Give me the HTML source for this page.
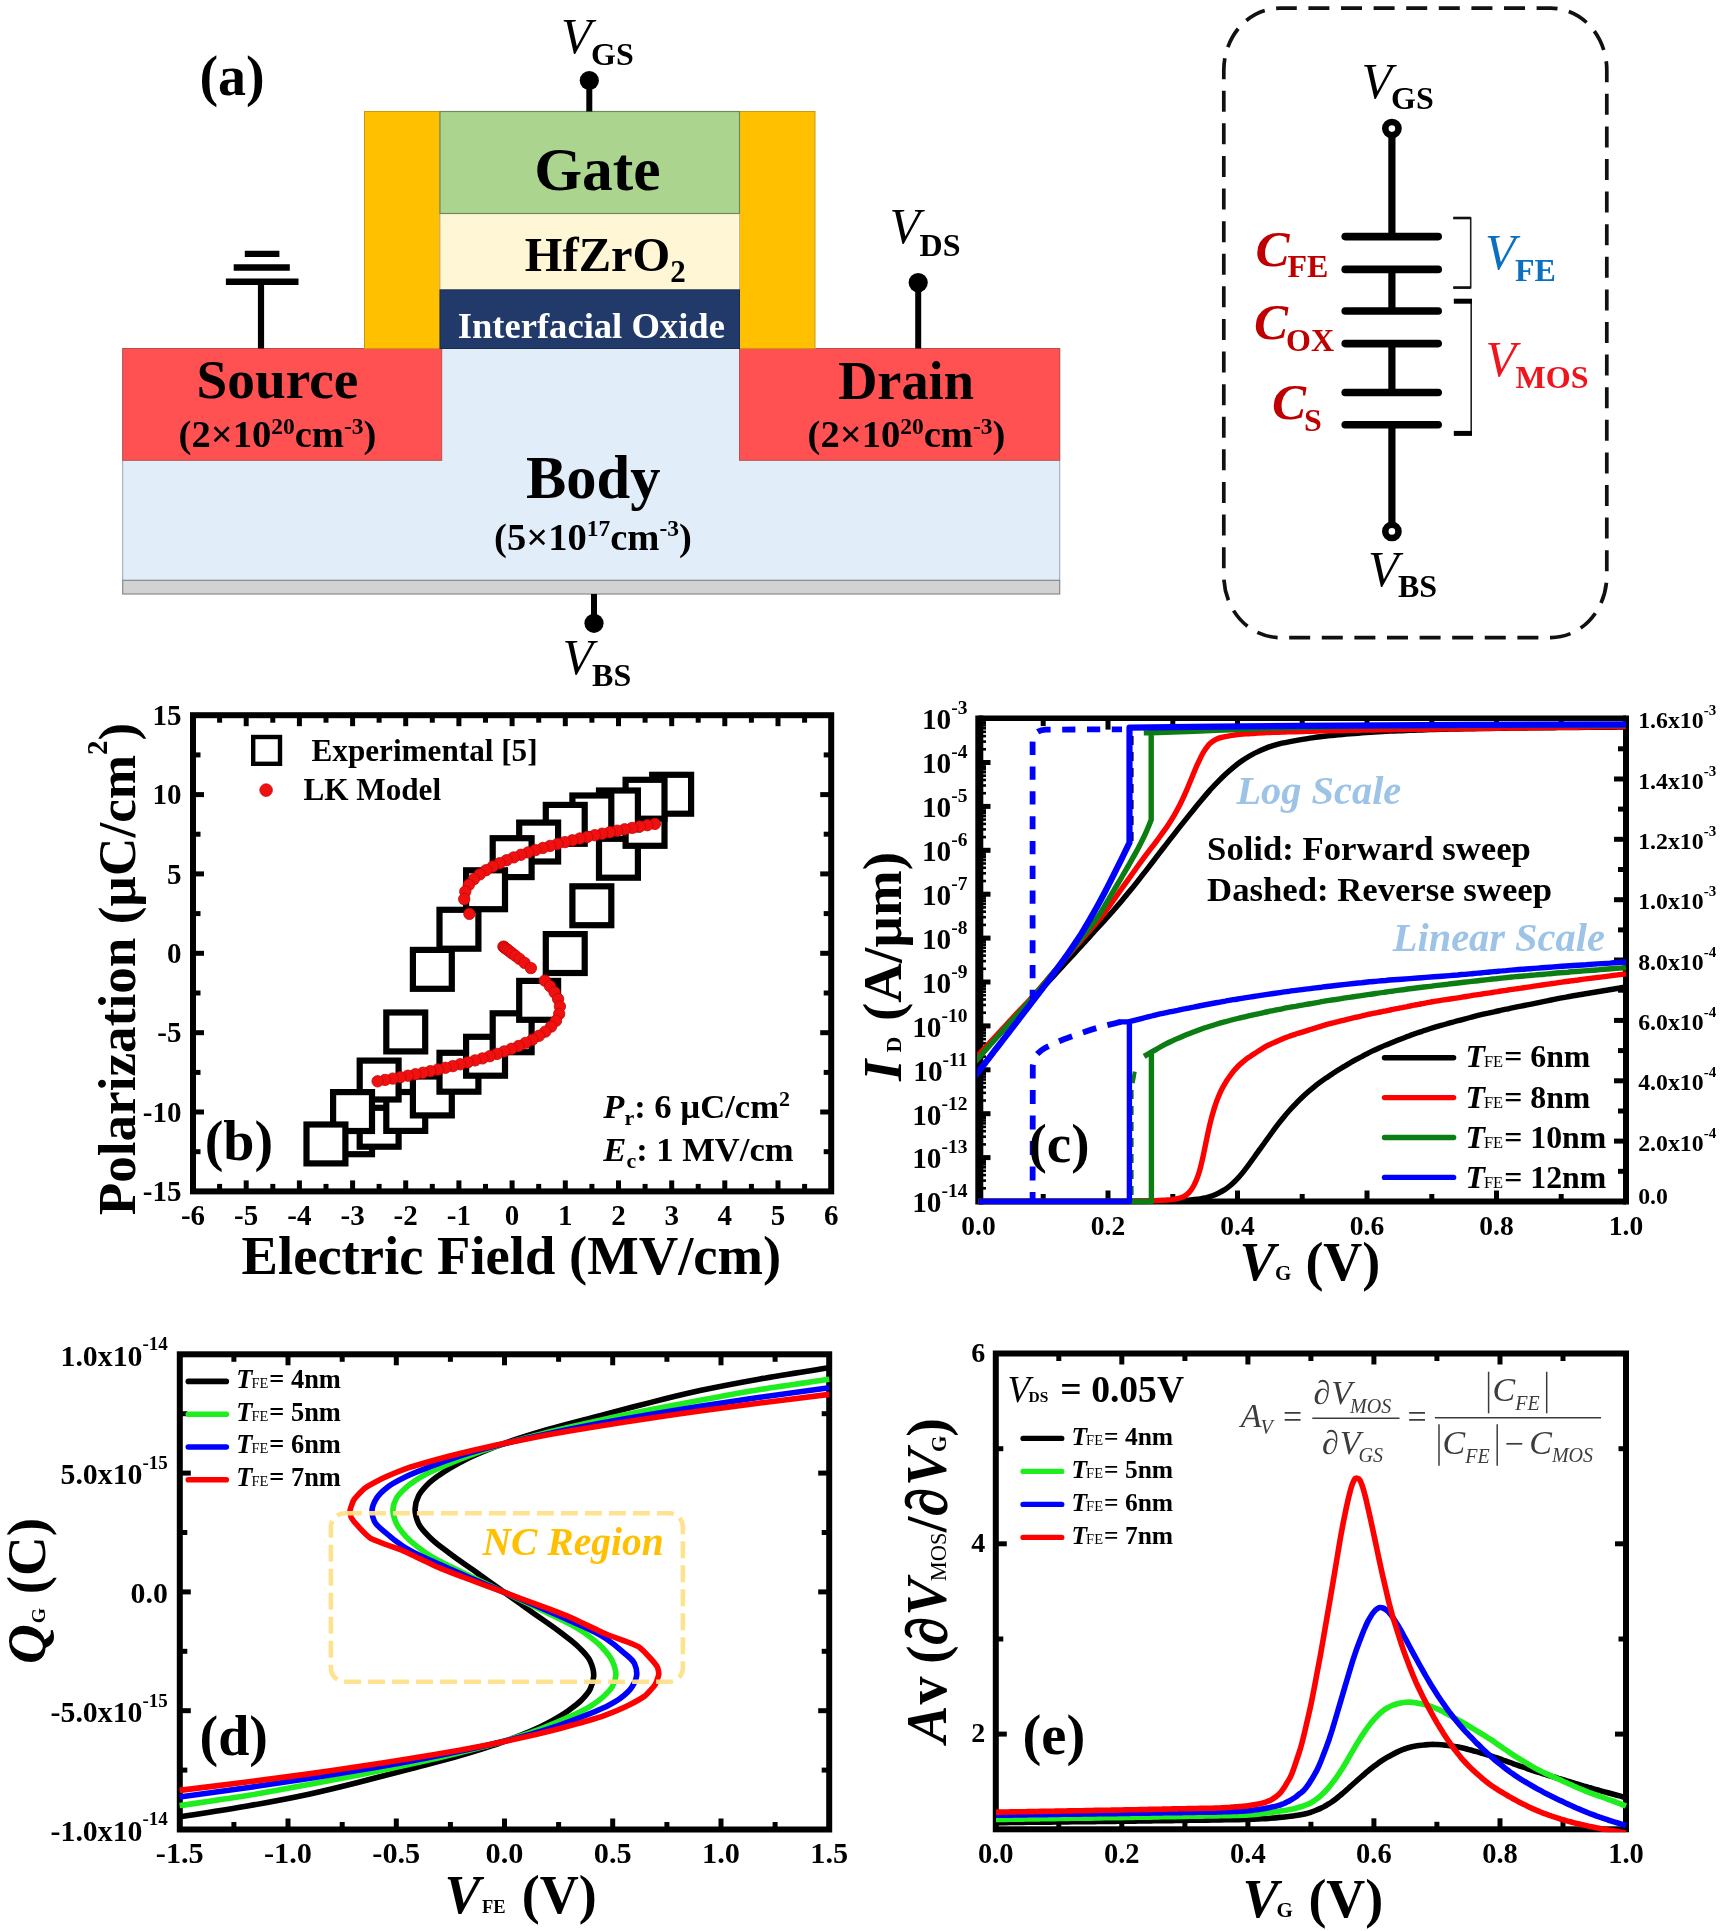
<!DOCTYPE html>
<html lang="en"><head><meta charset="utf-8"><title>NCFET figure</title>
<style>
html,body{margin:0;padding:0;background:#fff;}
body{width:1720px;height:1931px;overflow:hidden;}
svg{display:block;font-family:"Liberation Serif","DejaVu Serif",serif;filter:blur(0.55px);}
</style></head><body>
<svg width="1720" height="1931" viewBox="0 0 1720 1931">
<g id="panel-a">
<rect x="122.7" y="348.5" width="937" height="232" fill="#E1EEF9" stroke="#9aa7b5" stroke-width="1" />
<rect x="122.7" y="580.3" width="937" height="13.7" fill="#D2D2D2" stroke="#8a8a8a" stroke-width="1.2" />
<rect x="122.7" y="348.5" width="319" height="111.8" fill="#FF5151" stroke="#b85050" stroke-width="1" />
<rect x="739.5" y="348.5" width="320.2" height="111.8" fill="#FF5151" stroke="#b85050" stroke-width="1" />
<rect x="364.5" y="111.5" width="75.5" height="237" fill="#FFC000" stroke="#c89a10" stroke-width="1" />
<rect x="739.5" y="111.5" width="75.5" height="237" fill="#FFC000" stroke="#c89a10" stroke-width="1" />
<rect x="440" y="213.5" width="299.5" height="76.4" fill="#FFF6D6" stroke="#bfb699" stroke-width="1" />
<rect x="440" y="111.5" width="299.5" height="102" fill="#ABD58E" stroke="#6f8a5e" stroke-width="1.2" />
<rect x="440" y="289.9" width="299.5" height="58.6" fill="#223A6A" stroke="#1a2d50" stroke-width="1" />
<line x1="589.3" y1="80" x2="589.3" y2="111.5" stroke="#000" stroke-width="6" />
<circle cx="589.3" cy="80.5" r="9.6" fill="#000"/>
<line x1="918.2" y1="283" x2="918.2" y2="348.5" stroke="#000" stroke-width="6" />
<circle cx="918.2" cy="282.6" r="9.6" fill="#000"/>
<line x1="594" y1="594" x2="594" y2="623" stroke="#000" stroke-width="6" />
<circle cx="594" cy="623.3" r="9.6" fill="#000"/>
<line x1="261" y1="281" x2="261" y2="348.5" stroke="#000" stroke-width="6.2" />
<line x1="225.9" y1="281.7" x2="298.5" y2="281.7" stroke="#000" stroke-width="6.6" />
<line x1="233.7" y1="267.5" x2="289.8" y2="267.5" stroke="#000" stroke-width="6.6" />
<line x1="244.8" y1="253.8" x2="279.4" y2="253.8" stroke="#000" stroke-width="6.2" />
<text x="199.4" y="94.5" text-anchor="start" fill="#000"><tspan font-weight="bold" font-size="56">(a)</tspan></text>
<text x="561" y="53" text-anchor="start" fill="#000"><tspan font-weight="normal" font-style="italic" font-size="50">V</tspan><tspan font-weight="bold" font-size="32" dy="11.5" dx="-0.5">GS</tspan></text>
<text x="889.5" y="243.2" text-anchor="start" fill="#000"><tspan font-weight="normal" font-style="italic" font-size="50">V</tspan><tspan font-weight="bold" font-size="32" dy="12.8" dx="-0.5">DS</tspan></text>
<text x="562.5" y="673.5" text-anchor="start" fill="#000"><tspan font-weight="normal" font-style="italic" font-size="50">V</tspan><tspan font-weight="bold" font-size="32" dy="12" dx="-1">BS</tspan></text>
<text x="597.4" y="190.2" text-anchor="middle" fill="#000"><tspan font-weight="bold" font-size="61.5">Gate</tspan></text>
<text x="524.8" y="271" text-anchor="start" fill="#000"><tspan font-weight="bold" font-size="48.5">HfZrO</tspan><tspan font-weight="bold" font-size="31" dy="10.5">2</tspan></text>
<text x="591.3" y="337.6" text-anchor="middle" fill="#fff"><tspan font-weight="bold" font-size="36.6">Interfacial Oxide</tspan></text>
<text x="277.5" y="398" text-anchor="middle" fill="#000"><tspan font-weight="bold" font-size="55.3">Source</tspan></text>
<text x="906" y="398.6" text-anchor="middle" fill="#000"><tspan font-weight="bold" font-size="54.3">Drain</tspan></text>
<text x="593.2" y="498" text-anchor="middle" fill="#000"><tspan font-weight="bold" font-size="60.5">Body</tspan></text>
<text x="277.5" y="447" text-anchor="middle" fill="#000"><tspan font-weight="bold" font-size="38.6">(2×10</tspan><tspan font-weight="bold" font-size="23.5" dy="-13.5">20</tspan><tspan font-weight="bold" font-size="38.6" dy="13.5">cm</tspan><tspan font-weight="bold" font-size="23.5" dy="-13.5">-3</tspan><tspan font-weight="bold" font-size="38.6" dy="13.5">)</tspan></text>
<text x="906.5" y="447" text-anchor="middle" fill="#000"><tspan font-weight="bold" font-size="38.6">(2×10</tspan><tspan font-weight="bold" font-size="23.5" dy="-13.5">20</tspan><tspan font-weight="bold" font-size="38.6" dy="13.5">cm</tspan><tspan font-weight="bold" font-size="23.5" dy="-13.5">-3</tspan><tspan font-weight="bold" font-size="38.6" dy="13.5">)</tspan></text>
<text x="593" y="549.5" text-anchor="middle" fill="#000"><tspan font-weight="bold" font-size="38.6">(5×10</tspan><tspan font-weight="bold" font-size="23.5" dy="-13.5">17</tspan><tspan font-weight="bold" font-size="38.6" dy="13.5">cm</tspan><tspan font-weight="bold" font-size="23.5" dy="-13.5">-3</tspan><tspan font-weight="bold" font-size="38.6" dy="13.5">)</tspan></text>
</g>
<g id="panel-a2">
<rect x="1223.8" y="8.2" width="383" height="629.4" rx="56" ry="62" fill="none" stroke="#111" stroke-width="3.7" stroke-dasharray="21 11.6" stroke-dashoffset="4"/>
<line x1="1391.9" y1="136" x2="1391.9" y2="236.6" stroke="#000" stroke-width="7.2" />
<line x1="1391.9" y1="269.4" x2="1391.9" y2="311" stroke="#000" stroke-width="7.2" />
<line x1="1391.9" y1="343.6" x2="1391.9" y2="392.5" stroke="#000" stroke-width="7.2" />
<line x1="1391.9" y1="424.7" x2="1391.9" y2="524" stroke="#000" stroke-width="7.2" />
<line x1="1345.2" y1="236.6" x2="1438.2" y2="236.6" stroke="#000" stroke-width="7.6" stroke-linecap="round"/>
<line x1="1345.2" y1="269.4" x2="1438.2" y2="269.4" stroke="#000" stroke-width="7.6" stroke-linecap="round"/>
<line x1="1345.2" y1="311" x2="1438.2" y2="311" stroke="#000" stroke-width="7.6" stroke-linecap="round"/>
<line x1="1345.2" y1="343.6" x2="1438.2" y2="343.6" stroke="#000" stroke-width="7.6" stroke-linecap="round"/>
<line x1="1345.2" y1="392.5" x2="1438.2" y2="392.5" stroke="#000" stroke-width="7.6" stroke-linecap="round"/>
<line x1="1345.2" y1="424.7" x2="1438.2" y2="424.7" stroke="#000" stroke-width="7.6" stroke-linecap="round"/>
<circle cx="1391.9" cy="128.6" r="6.6" fill="#fff" stroke="#000" stroke-width="6.6"/>
<circle cx="1391.9" cy="531.4" r="6.6" fill="#fff" stroke="#000" stroke-width="6.6"/>
<path d="M1453.3 218 H1470.7 V287.6 H1453.3" fill="none" stroke="#222" stroke-width="1.6" />
<line x1="1453.3" y1="218" x2="1470.7" y2="218" stroke="#111" stroke-width="2.6" />
<line x1="1453.3" y1="287.6" x2="1470.7" y2="287.6" stroke="#111" stroke-width="2.6" />
<line x1="1471.2" y1="301" x2="1471.2" y2="433.4" stroke="#222" stroke-width="1.6" />
<line x1="1453.8" y1="301.2" x2="1472" y2="301.2" stroke="#000" stroke-width="5" />
<line x1="1453.8" y1="433.4" x2="1472" y2="433.4" stroke="#000" stroke-width="5" />
<text x="1361.5" y="97.7" text-anchor="start" fill="#000"><tspan font-weight="normal" font-style="italic" font-size="50">V</tspan><tspan font-weight="bold" font-size="32" dy="11.6" dx="-1">GS</tspan></text>
<text x="1367.9" y="585.6" text-anchor="start" fill="#000"><tspan font-weight="normal" font-style="italic" font-size="50">V</tspan><tspan font-weight="bold" font-size="32" dy="11.6" dx="-0.5">BS</tspan></text>
<text x="1255.5" y="265.5" text-anchor="start" fill="#C00000"><tspan font-weight="bold" font-style="italic" font-size="51">C</tspan><tspan font-weight="bold" font-size="32" dy="11.6" dx="-2">FE</tspan></text>
<text x="1254" y="338.6" text-anchor="start" fill="#C00000"><tspan font-weight="bold" font-style="italic" font-size="51">C</tspan><tspan font-weight="bold" font-size="32" dy="12.6" dx="-2">OX</tspan></text>
<text x="1272" y="418.7" text-anchor="start" fill="#C00000"><tspan font-weight="bold" font-style="italic" font-size="51">C</tspan><tspan font-weight="bold" font-size="32" dy="12.2" dx="-2">S</tspan></text>
<text x="1485" y="268.6" text-anchor="start" fill="#0B6FC2"><tspan font-weight="normal" font-style="italic" font-size="50">V</tspan><tspan font-weight="bold" font-size="32" dy="12.2" dx="-0.5">FE</tspan></text>
<text x="1485.5" y="375.7" text-anchor="start" fill="#F0141E"><tspan font-weight="normal" font-style="italic" font-size="50">V</tspan><tspan font-weight="bold" font-size="32" dy="12.2" dx="-0.5">MOS</tspan></text>
</g>
<g id="panel-b">
<rect x="333.1" y="1115.3" width="38.9" height="38.9" fill="#fff" stroke="#000" stroke-width="6.2" />
<rect x="359.7" y="1107.8" width="38.9" height="38.9" fill="#fff" stroke="#000" stroke-width="6.2" />
<rect x="386.3" y="1092" width="38.9" height="38.9" fill="#fff" stroke="#000" stroke-width="6.2" />
<rect x="412.9" y="1076.5" width="38.9" height="38.9" fill="#fff" stroke="#000" stroke-width="6.2" />
<rect x="439.5" y="1052.8" width="38.9" height="38.9" fill="#fff" stroke="#000" stroke-width="6.2" />
<rect x="466.1" y="1036.8" width="38.9" height="38.9" fill="#fff" stroke="#000" stroke-width="6.2" />
<rect x="492.7" y="1013.3" width="38.9" height="38.9" fill="#fff" stroke="#000" stroke-width="6.2" />
<rect x="519.2" y="980.9" width="38.9" height="38.9" fill="#fff" stroke="#000" stroke-width="6.2" />
<rect x="545.8" y="934.1" width="38.9" height="38.9" fill="#fff" stroke="#000" stroke-width="6.2" />
<rect x="572.4" y="886.3" width="38.9" height="38.9" fill="#fff" stroke="#000" stroke-width="6.2" />
<rect x="599" y="838.8" width="38.9" height="38.9" fill="#fff" stroke="#000" stroke-width="6.2" />
<rect x="625.6" y="806.9" width="38.9" height="38.9" fill="#fff" stroke="#000" stroke-width="6.2" />
<rect x="652.2" y="774.8" width="38.9" height="38.9" fill="#fff" stroke="#000" stroke-width="6.2" />
<rect x="625.6" y="779.8" width="38.9" height="38.9" fill="#fff" stroke="#000" stroke-width="6.2" />
<rect x="599" y="790.5" width="38.9" height="38.9" fill="#fff" stroke="#000" stroke-width="6.2" />
<rect x="572.4" y="795.5" width="38.9" height="38.9" fill="#fff" stroke="#000" stroke-width="6.2" />
<rect x="545.8" y="804.9" width="38.9" height="38.9" fill="#fff" stroke="#000" stroke-width="6.2" />
<rect x="519.2" y="822.6" width="38.9" height="38.9" fill="#fff" stroke="#000" stroke-width="6.2" />
<rect x="492.7" y="838.2" width="38.9" height="38.9" fill="#fff" stroke="#000" stroke-width="6.2" />
<rect x="466.1" y="870.3" width="38.9" height="38.9" fill="#fff" stroke="#000" stroke-width="6.2" />
<rect x="439.5" y="909.8" width="38.9" height="38.9" fill="#fff" stroke="#000" stroke-width="6.2" />
<rect x="412.9" y="949.9" width="38.9" height="38.9" fill="#fff" stroke="#000" stroke-width="6.2" />
<rect x="386.3" y="1012.5" width="38.9" height="38.9" fill="#fff" stroke="#000" stroke-width="6.2" />
<rect x="359.7" y="1060.6" width="38.9" height="38.9" fill="#fff" stroke="#000" stroke-width="6.2" />
<rect x="333.1" y="1092.1" width="38.9" height="38.9" fill="#fff" stroke="#000" stroke-width="6.2" />
<rect x="306.5" y="1124.5" width="38.9" height="38.9" fill="#fff" stroke="#000" stroke-width="6.2" />
<g fill="#F01010" stroke="#C40808" stroke-width="0.8">
<circle cx="654.9" cy="823.9" r="5.7"/>
<circle cx="647.3" cy="825.2" r="5.7"/>
<circle cx="639.7" cy="826.5" r="5.7"/>
<circle cx="632.2" cy="827.9" r="5.7"/>
<circle cx="624.7" cy="829.3" r="5.7"/>
<circle cx="617.2" cy="830.7" r="5.7"/>
<circle cx="609.8" cy="832.2" r="5.7"/>
<circle cx="602.2" cy="833.7" r="5.7"/>
<circle cx="594.8" cy="835.2" r="5.7"/>
<circle cx="587.3" cy="836.9" r="5.7"/>
<circle cx="579.8" cy="838.5" r="5.7"/>
<circle cx="572.4" cy="840.3" r="5.7"/>
<circle cx="564.9" cy="842.1" r="5.7"/>
<circle cx="557.5" cy="843.9" r="5.7"/>
<circle cx="550.1" cy="845.9" r="5.7"/>
<circle cx="542.8" cy="848" r="5.7"/>
<circle cx="535.4" cy="850.1" r="5.7"/>
<circle cx="528.1" cy="852.4" r="5.7"/>
<circle cx="520.9" cy="854.8" r="5.7"/>
<circle cx="513.7" cy="857.4" r="5.7"/>
<circle cx="506.6" cy="860.2" r="5.7"/>
<circle cx="499.6" cy="863.2" r="5.7"/>
<circle cx="492.8" cy="866.5" r="5.7"/>
<circle cx="486.1" cy="870.2" r="5.7"/>
<circle cx="479.7" cy="874.4" r="5.7"/>
<circle cx="473.9" cy="879.2" r="5.7"/>
<circle cx="468.8" cy="884.9" r="5.7"/>
<circle cx="465.3" cy="891.6" r="5.7"/>
<circle cx="464.2" cy="899.1" r="5.7"/>
<circle cx="469.4" cy="913.9" r="5.7"/>
<circle cx="503.4" cy="946.6" r="5.7"/>
<circle cx="504.1" cy="947.2" r="5.7"/>
<circle cx="505.1" cy="947.9" r="5.7"/>
<circle cx="506.2" cy="948.8" r="5.7"/>
<circle cx="507.8" cy="950" r="5.7"/>
<circle cx="509.7" cy="951.5" r="5.7"/>
<circle cx="512.2" cy="953.4" r="5.7"/>
<circle cx="515.4" cy="955.8" r="5.7"/>
<circle cx="519.5" cy="958.9" r="5.7"/>
<circle cx="524.6" cy="962.9" r="5.7"/>
<circle cx="530.9" cy="968.1" r="5.7"/>
<circle cx="544.8" cy="980.6" r="5.7"/>
<circle cx="550" cy="986.2" r="5.7"/>
<circle cx="554.5" cy="992.3" r="5.7"/>
<circle cx="558.1" cy="999" r="5.7"/>
<circle cx="559.9" cy="1006.4" r="5.7"/>
<circle cx="559.2" cy="1013.9" r="5.7"/>
<circle cx="556" cy="1020.8" r="5.7"/>
<circle cx="551.1" cy="1026.6" r="5.7"/>
<circle cx="545.3" cy="1031.6" r="5.7"/>
<circle cx="539" cy="1035.8" r="5.7"/>
<circle cx="532.4" cy="1039.6" r="5.7"/>
<circle cx="525.5" cy="1042.9" r="5.7"/>
<circle cx="518.5" cy="1046" r="5.7"/>
<circle cx="511.4" cy="1048.8" r="5.7"/>
<circle cx="504.2" cy="1051.4" r="5.7"/>
<circle cx="497" cy="1053.9" r="5.7"/>
<circle cx="489.7" cy="1056.2" r="5.7"/>
<circle cx="482.4" cy="1058.4" r="5.7"/>
<circle cx="475" cy="1060.4" r="5.7"/>
<circle cx="467.6" cy="1062.4" r="5.7"/>
<circle cx="460.2" cy="1064.3" r="5.7"/>
<circle cx="452.8" cy="1066.1" r="5.7"/>
<circle cx="445.4" cy="1067.8" r="5.7"/>
<circle cx="437.9" cy="1069.5" r="5.7"/>
<circle cx="430.4" cy="1071.1" r="5.7"/>
<circle cx="422.9" cy="1072.7" r="5.7"/>
<circle cx="415.4" cy="1074.2" r="5.7"/>
<circle cx="407.9" cy="1075.7" r="5.7"/>
<circle cx="400.3" cy="1077.2" r="5.7"/>
<circle cx="392.7" cy="1078.6" r="5.7"/>
<circle cx="385.1" cy="1079.9" r="5.7"/>
<circle cx="377.6" cy="1081.3" r="5.7"/>
</g>
<rect x="193" y="715.2" width="638.2" height="476.2" fill="none" stroke="#000" stroke-width="6" />
<line x1="219.6" y1="1191.4" x2="219.6" y2="1183.9" stroke="#000" stroke-width="5" />
<line x1="219.6" y1="715.2" x2="219.6" y2="722.7" stroke="#000" stroke-width="5" />
<text x="193" y="1224.6" text-anchor="middle" fill="#000"><tspan font-weight="bold" font-size="29">-6</tspan></text>
<line x1="246.2" y1="1191.4" x2="246.2" y2="1180.4" stroke="#000" stroke-width="5" />
<line x1="246.2" y1="715.2" x2="246.2" y2="726.2" stroke="#000" stroke-width="5" />
<line x1="272.8" y1="1191.4" x2="272.8" y2="1183.9" stroke="#000" stroke-width="5" />
<line x1="272.8" y1="715.2" x2="272.8" y2="722.7" stroke="#000" stroke-width="5" />
<text x="246.2" y="1224.6" text-anchor="middle" fill="#000"><tspan font-weight="bold" font-size="29">-5</tspan></text>
<line x1="299.4" y1="1191.4" x2="299.4" y2="1180.4" stroke="#000" stroke-width="5" />
<line x1="299.4" y1="715.2" x2="299.4" y2="726.2" stroke="#000" stroke-width="5" />
<line x1="326" y1="1191.4" x2="326" y2="1183.9" stroke="#000" stroke-width="5" />
<line x1="326" y1="715.2" x2="326" y2="722.7" stroke="#000" stroke-width="5" />
<text x="299.4" y="1224.6" text-anchor="middle" fill="#000"><tspan font-weight="bold" font-size="29">-4</tspan></text>
<line x1="352.6" y1="1191.4" x2="352.6" y2="1180.4" stroke="#000" stroke-width="5" />
<line x1="352.6" y1="715.2" x2="352.6" y2="726.2" stroke="#000" stroke-width="5" />
<line x1="379.1" y1="1191.4" x2="379.1" y2="1183.9" stroke="#000" stroke-width="5" />
<line x1="379.1" y1="715.2" x2="379.1" y2="722.7" stroke="#000" stroke-width="5" />
<text x="352.6" y="1224.6" text-anchor="middle" fill="#000"><tspan font-weight="bold" font-size="29">-3</tspan></text>
<line x1="405.7" y1="1191.4" x2="405.7" y2="1180.4" stroke="#000" stroke-width="5" />
<line x1="405.7" y1="715.2" x2="405.7" y2="726.2" stroke="#000" stroke-width="5" />
<line x1="432.3" y1="1191.4" x2="432.3" y2="1183.9" stroke="#000" stroke-width="5" />
<line x1="432.3" y1="715.2" x2="432.3" y2="722.7" stroke="#000" stroke-width="5" />
<text x="405.7" y="1224.6" text-anchor="middle" fill="#000"><tspan font-weight="bold" font-size="29">-2</tspan></text>
<line x1="458.9" y1="1191.4" x2="458.9" y2="1180.4" stroke="#000" stroke-width="5" />
<line x1="458.9" y1="715.2" x2="458.9" y2="726.2" stroke="#000" stroke-width="5" />
<line x1="485.5" y1="1191.4" x2="485.5" y2="1183.9" stroke="#000" stroke-width="5" />
<line x1="485.5" y1="715.2" x2="485.5" y2="722.7" stroke="#000" stroke-width="5" />
<text x="458.9" y="1224.6" text-anchor="middle" fill="#000"><tspan font-weight="bold" font-size="29">-1</tspan></text>
<line x1="512.1" y1="1191.4" x2="512.1" y2="1180.4" stroke="#000" stroke-width="5" />
<line x1="512.1" y1="715.2" x2="512.1" y2="726.2" stroke="#000" stroke-width="5" />
<line x1="538.7" y1="1191.4" x2="538.7" y2="1183.9" stroke="#000" stroke-width="5" />
<line x1="538.7" y1="715.2" x2="538.7" y2="722.7" stroke="#000" stroke-width="5" />
<text x="512.1" y="1224.6" text-anchor="middle" fill="#000"><tspan font-weight="bold" font-size="29">0</tspan></text>
<line x1="565.3" y1="1191.4" x2="565.3" y2="1180.4" stroke="#000" stroke-width="5" />
<line x1="565.3" y1="715.2" x2="565.3" y2="726.2" stroke="#000" stroke-width="5" />
<line x1="591.9" y1="1191.4" x2="591.9" y2="1183.9" stroke="#000" stroke-width="5" />
<line x1="591.9" y1="715.2" x2="591.9" y2="722.7" stroke="#000" stroke-width="5" />
<text x="565.3" y="1224.6" text-anchor="middle" fill="#000"><tspan font-weight="bold" font-size="29">1</tspan></text>
<line x1="618.5" y1="1191.4" x2="618.5" y2="1180.4" stroke="#000" stroke-width="5" />
<line x1="618.5" y1="715.2" x2="618.5" y2="726.2" stroke="#000" stroke-width="5" />
<line x1="645.1" y1="1191.4" x2="645.1" y2="1183.9" stroke="#000" stroke-width="5" />
<line x1="645.1" y1="715.2" x2="645.1" y2="722.7" stroke="#000" stroke-width="5" />
<text x="618.5" y="1224.6" text-anchor="middle" fill="#000"><tspan font-weight="bold" font-size="29">2</tspan></text>
<line x1="671.7" y1="1191.4" x2="671.7" y2="1180.4" stroke="#000" stroke-width="5" />
<line x1="671.7" y1="715.2" x2="671.7" y2="726.2" stroke="#000" stroke-width="5" />
<line x1="698.2" y1="1191.4" x2="698.2" y2="1183.9" stroke="#000" stroke-width="5" />
<line x1="698.2" y1="715.2" x2="698.2" y2="722.7" stroke="#000" stroke-width="5" />
<text x="671.7" y="1224.6" text-anchor="middle" fill="#000"><tspan font-weight="bold" font-size="29">3</tspan></text>
<line x1="724.8" y1="1191.4" x2="724.8" y2="1180.4" stroke="#000" stroke-width="5" />
<line x1="724.8" y1="715.2" x2="724.8" y2="726.2" stroke="#000" stroke-width="5" />
<line x1="751.4" y1="1191.4" x2="751.4" y2="1183.9" stroke="#000" stroke-width="5" />
<line x1="751.4" y1="715.2" x2="751.4" y2="722.7" stroke="#000" stroke-width="5" />
<text x="724.8" y="1224.6" text-anchor="middle" fill="#000"><tspan font-weight="bold" font-size="29">4</tspan></text>
<line x1="778" y1="1191.4" x2="778" y2="1180.4" stroke="#000" stroke-width="5" />
<line x1="778" y1="715.2" x2="778" y2="726.2" stroke="#000" stroke-width="5" />
<line x1="804.6" y1="1191.4" x2="804.6" y2="1183.9" stroke="#000" stroke-width="5" />
<line x1="804.6" y1="715.2" x2="804.6" y2="722.7" stroke="#000" stroke-width="5" />
<text x="778" y="1224.6" text-anchor="middle" fill="#000"><tspan font-weight="bold" font-size="29">5</tspan></text>
<text x="831.2" y="1224.6" text-anchor="middle" fill="#000"><tspan font-weight="bold" font-size="29">6</tspan></text>
<line x1="193" y1="1151.7" x2="200.5" y2="1151.7" stroke="#000" stroke-width="5" />
<line x1="831.2" y1="1151.7" x2="823.7" y2="1151.7" stroke="#000" stroke-width="5" />
<text x="181.5" y="1201" text-anchor="end" fill="#000"><tspan font-weight="bold" font-size="29">-15</tspan></text>
<line x1="193" y1="1112" x2="204" y2="1112" stroke="#000" stroke-width="5" />
<line x1="831.2" y1="1112" x2="820.2" y2="1112" stroke="#000" stroke-width="5" />
<line x1="193" y1="1072.4" x2="200.5" y2="1072.4" stroke="#000" stroke-width="5" />
<line x1="831.2" y1="1072.4" x2="823.7" y2="1072.4" stroke="#000" stroke-width="5" />
<text x="181.5" y="1121.6" text-anchor="end" fill="#000"><tspan font-weight="bold" font-size="29">-10</tspan></text>
<line x1="193" y1="1032.7" x2="204" y2="1032.7" stroke="#000" stroke-width="5" />
<line x1="831.2" y1="1032.7" x2="820.2" y2="1032.7" stroke="#000" stroke-width="5" />
<line x1="193" y1="993" x2="200.5" y2="993" stroke="#000" stroke-width="5" />
<line x1="831.2" y1="993" x2="823.7" y2="993" stroke="#000" stroke-width="5" />
<text x="181.5" y="1042.3" text-anchor="end" fill="#000"><tspan font-weight="bold" font-size="29">-5</tspan></text>
<line x1="193" y1="953.3" x2="204" y2="953.3" stroke="#000" stroke-width="5" />
<line x1="831.2" y1="953.3" x2="820.2" y2="953.3" stroke="#000" stroke-width="5" />
<line x1="193" y1="913.6" x2="200.5" y2="913.6" stroke="#000" stroke-width="5" />
<line x1="831.2" y1="913.6" x2="823.7" y2="913.6" stroke="#000" stroke-width="5" />
<text x="181.5" y="962.9" text-anchor="end" fill="#000"><tspan font-weight="bold" font-size="29">0</tspan></text>
<line x1="193" y1="873.9" x2="204" y2="873.9" stroke="#000" stroke-width="5" />
<line x1="831.2" y1="873.9" x2="820.2" y2="873.9" stroke="#000" stroke-width="5" />
<line x1="193" y1="834.2" x2="200.5" y2="834.2" stroke="#000" stroke-width="5" />
<line x1="831.2" y1="834.2" x2="823.7" y2="834.2" stroke="#000" stroke-width="5" />
<text x="181.5" y="883.5" text-anchor="end" fill="#000"><tspan font-weight="bold" font-size="29">5</tspan></text>
<line x1="193" y1="794.6" x2="204" y2="794.6" stroke="#000" stroke-width="5" />
<line x1="831.2" y1="794.6" x2="820.2" y2="794.6" stroke="#000" stroke-width="5" />
<line x1="193" y1="754.9" x2="200.5" y2="754.9" stroke="#000" stroke-width="5" />
<line x1="831.2" y1="754.9" x2="823.7" y2="754.9" stroke="#000" stroke-width="5" />
<text x="181.5" y="804.2" text-anchor="end" fill="#000"><tspan font-weight="bold" font-size="29">10</tspan></text>
<text x="181.5" y="724.8" text-anchor="end" fill="#000"><tspan font-weight="bold" font-size="29">15</tspan></text>
<rect x="253.2" y="737" width="26.8" height="26.8" fill="none" stroke="#000" stroke-width="4.4" />
<text x="311.5" y="760.8" text-anchor="start" fill="#000"><tspan font-weight="bold" font-size="31.2">Experimental [5]</tspan></text>
<circle cx="266.1" cy="790.1" r="6.3" fill="#F01010" stroke="#C40808" stroke-width="0.8"/>
<text x="303.4" y="799.9" text-anchor="start" fill="#000"><tspan font-weight="bold" font-size="31.2">LK Model</tspan></text>
<text x="603.3" y="1118" text-anchor="start" fill="#000"><tspan font-weight="bold" font-style="italic" font-size="34.6">P</tspan><tspan font-weight="bold" font-size="22" dy="7">r</tspan><tspan font-weight="bold" font-size="34.6" dy="-7">: 6 µC/cm</tspan><tspan font-weight="bold" font-size="22" dy="-12">2</tspan></text>
<text x="603.3" y="1160.5" text-anchor="start" fill="#000"><tspan font-weight="bold" font-style="italic" font-size="34.6">E</tspan><tspan font-weight="bold" font-size="22" dy="7">c</tspan><tspan font-weight="bold" font-size="34.6" dy="-7">: 1 MV/cm</tspan></text>
<text x="204.7" y="1159.8" text-anchor="start" fill="#000"><tspan font-weight="bold" font-size="56">(b)</tspan></text>
<text x="511.4" y="1273.7" text-anchor="middle" fill="#000"><tspan font-weight="bold" font-size="54.6">Electric Field (MV/cm)</tspan></text>
<text x="135" y="969" text-anchor="middle" fill="#000" transform="rotate(-90 135 969)"><tspan font-weight="bold" font-size="53.2">Polarization (µC/cm</tspan><tspan font-weight="bold" font-size="29" dy="-28">2</tspan><tspan font-weight="bold" font-size="53.2" dy="28">)</tspan></text>
</g>
<g id="panel-c">
<path d="M979.3 715.6 V1204.5" fill="none" stroke="#000" stroke-width="8" />
<path d="M1626 715.6 V1204.5" fill="none" stroke="#000" stroke-width="6" />
<path d="M978.5 718.3 H1626" fill="none" stroke="#000" stroke-width="5.6" />
<path d="M978.5 1201.5 H1626" fill="none" stroke="#000" stroke-width="6" />
<text x="978.5" y="1234.7" text-anchor="middle" fill="#000"><tspan font-weight="bold" font-size="27.5">0.0</tspan></text>
<line x1="1043.2" y1="1201.5" x2="1043.2" y2="1194" stroke="#000" stroke-width="5" />
<line x1="1043.2" y1="718.6" x2="1043.2" y2="726.1" stroke="#000" stroke-width="5" />
<line x1="1108" y1="1201.5" x2="1108" y2="1190.5" stroke="#000" stroke-width="5" />
<line x1="1108" y1="718.6" x2="1108" y2="729.6" stroke="#000" stroke-width="5" />
<text x="1108" y="1234.7" text-anchor="middle" fill="#000"><tspan font-weight="bold" font-size="27.5">0.2</tspan></text>
<line x1="1172.8" y1="1201.5" x2="1172.8" y2="1194" stroke="#000" stroke-width="5" />
<line x1="1172.8" y1="718.6" x2="1172.8" y2="726.1" stroke="#000" stroke-width="5" />
<line x1="1237.5" y1="1201.5" x2="1237.5" y2="1190.5" stroke="#000" stroke-width="5" />
<line x1="1237.5" y1="718.6" x2="1237.5" y2="729.6" stroke="#000" stroke-width="5" />
<text x="1237.5" y="1234.7" text-anchor="middle" fill="#000"><tspan font-weight="bold" font-size="27.5">0.4</tspan></text>
<line x1="1302.2" y1="1201.5" x2="1302.2" y2="1194" stroke="#000" stroke-width="5" />
<line x1="1302.2" y1="718.6" x2="1302.2" y2="726.1" stroke="#000" stroke-width="5" />
<line x1="1367" y1="1201.5" x2="1367" y2="1190.5" stroke="#000" stroke-width="5" />
<line x1="1367" y1="718.6" x2="1367" y2="729.6" stroke="#000" stroke-width="5" />
<text x="1367" y="1234.7" text-anchor="middle" fill="#000"><tspan font-weight="bold" font-size="27.5">0.6</tspan></text>
<line x1="1431.8" y1="1201.5" x2="1431.8" y2="1194" stroke="#000" stroke-width="5" />
<line x1="1431.8" y1="718.6" x2="1431.8" y2="726.1" stroke="#000" stroke-width="5" />
<line x1="1496.5" y1="1201.5" x2="1496.5" y2="1190.5" stroke="#000" stroke-width="5" />
<line x1="1496.5" y1="718.6" x2="1496.5" y2="729.6" stroke="#000" stroke-width="5" />
<text x="1496.5" y="1234.7" text-anchor="middle" fill="#000"><tspan font-weight="bold" font-size="27.5">0.8</tspan></text>
<line x1="1561.2" y1="1201.5" x2="1561.2" y2="1194" stroke="#000" stroke-width="5" />
<line x1="1561.2" y1="718.6" x2="1561.2" y2="726.1" stroke="#000" stroke-width="5" />
<text x="1626" y="1234.7" text-anchor="middle" fill="#000"><tspan font-weight="bold" font-size="27.5">1.0</tspan></text>
<text x="967.5" y="729.4" text-anchor="end" fill="#000"><tspan font-weight="bold" font-size="29.3">10</tspan><tspan font-weight="bold" font-size="19.5" dy="-15">-3</tspan></text>
<line x1="978.5" y1="749.3" x2="986" y2="749.3" stroke="#000" stroke-width="2.6" />
<line x1="978.5" y1="741.6" x2="986" y2="741.6" stroke="#000" stroke-width="2.6" />
<line x1="978.5" y1="736.1" x2="986" y2="736.1" stroke="#000" stroke-width="2.6" />
<line x1="978.5" y1="731.8" x2="986" y2="731.8" stroke="#000" stroke-width="2.6" />
<line x1="978.5" y1="728.3" x2="986" y2="728.3" stroke="#000" stroke-width="2.6" />
<line x1="978.5" y1="725.4" x2="986" y2="725.4" stroke="#000" stroke-width="2.6" />
<line x1="978.5" y1="722.9" x2="986" y2="722.9" stroke="#000" stroke-width="2.6" />
<line x1="978.5" y1="720.6" x2="986" y2="720.6" stroke="#000" stroke-width="2.6" />
<line x1="978.5" y1="762.5" x2="990.5" y2="762.5" stroke="#000" stroke-width="5" />
<text x="967.5" y="773.3" text-anchor="end" fill="#000"><tspan font-weight="bold" font-size="29.3">10</tspan><tspan font-weight="bold" font-size="19.5" dy="-15">-4</tspan></text>
<line x1="978.5" y1="793.2" x2="986" y2="793.2" stroke="#000" stroke-width="2.6" />
<line x1="978.5" y1="785.5" x2="986" y2="785.5" stroke="#000" stroke-width="2.6" />
<line x1="978.5" y1="780" x2="986" y2="780" stroke="#000" stroke-width="2.6" />
<line x1="978.5" y1="775.7" x2="986" y2="775.7" stroke="#000" stroke-width="2.6" />
<line x1="978.5" y1="772.2" x2="986" y2="772.2" stroke="#000" stroke-width="2.6" />
<line x1="978.5" y1="769.3" x2="986" y2="769.3" stroke="#000" stroke-width="2.6" />
<line x1="978.5" y1="766.8" x2="986" y2="766.8" stroke="#000" stroke-width="2.6" />
<line x1="978.5" y1="764.5" x2="986" y2="764.5" stroke="#000" stroke-width="2.6" />
<line x1="978.5" y1="806.4" x2="990.5" y2="806.4" stroke="#000" stroke-width="5" />
<text x="967.5" y="817.2" text-anchor="end" fill="#000"><tspan font-weight="bold" font-size="29.3">10</tspan><tspan font-weight="bold" font-size="19.5" dy="-15">-5</tspan></text>
<line x1="978.5" y1="837.1" x2="986" y2="837.1" stroke="#000" stroke-width="2.6" />
<line x1="978.5" y1="829.4" x2="986" y2="829.4" stroke="#000" stroke-width="2.6" />
<line x1="978.5" y1="823.9" x2="986" y2="823.9" stroke="#000" stroke-width="2.6" />
<line x1="978.5" y1="819.6" x2="986" y2="819.6" stroke="#000" stroke-width="2.6" />
<line x1="978.5" y1="816.1" x2="986" y2="816.1" stroke="#000" stroke-width="2.6" />
<line x1="978.5" y1="813.2" x2="986" y2="813.2" stroke="#000" stroke-width="2.6" />
<line x1="978.5" y1="810.7" x2="986" y2="810.7" stroke="#000" stroke-width="2.6" />
<line x1="978.5" y1="808.4" x2="986" y2="808.4" stroke="#000" stroke-width="2.6" />
<line x1="978.5" y1="850.3" x2="990.5" y2="850.3" stroke="#000" stroke-width="5" />
<text x="967.5" y="861.1" text-anchor="end" fill="#000"><tspan font-weight="bold" font-size="29.3">10</tspan><tspan font-weight="bold" font-size="19.5" dy="-15">-6</tspan></text>
<line x1="978.5" y1="881" x2="986" y2="881" stroke="#000" stroke-width="2.6" />
<line x1="978.5" y1="873.3" x2="986" y2="873.3" stroke="#000" stroke-width="2.6" />
<line x1="978.5" y1="867.8" x2="986" y2="867.8" stroke="#000" stroke-width="2.6" />
<line x1="978.5" y1="863.5" x2="986" y2="863.5" stroke="#000" stroke-width="2.6" />
<line x1="978.5" y1="860" x2="986" y2="860" stroke="#000" stroke-width="2.6" />
<line x1="978.5" y1="857.1" x2="986" y2="857.1" stroke="#000" stroke-width="2.6" />
<line x1="978.5" y1="854.6" x2="986" y2="854.6" stroke="#000" stroke-width="2.6" />
<line x1="978.5" y1="852.3" x2="986" y2="852.3" stroke="#000" stroke-width="2.6" />
<line x1="978.5" y1="894.2" x2="990.5" y2="894.2" stroke="#000" stroke-width="5" />
<text x="967.5" y="905" text-anchor="end" fill="#000"><tspan font-weight="bold" font-size="29.3">10</tspan><tspan font-weight="bold" font-size="19.5" dy="-15">-7</tspan></text>
<line x1="978.5" y1="924.9" x2="986" y2="924.9" stroke="#000" stroke-width="2.6" />
<line x1="978.5" y1="917.2" x2="986" y2="917.2" stroke="#000" stroke-width="2.6" />
<line x1="978.5" y1="911.7" x2="986" y2="911.7" stroke="#000" stroke-width="2.6" />
<line x1="978.5" y1="907.4" x2="986" y2="907.4" stroke="#000" stroke-width="2.6" />
<line x1="978.5" y1="903.9" x2="986" y2="903.9" stroke="#000" stroke-width="2.6" />
<line x1="978.5" y1="901" x2="986" y2="901" stroke="#000" stroke-width="2.6" />
<line x1="978.5" y1="898.5" x2="986" y2="898.5" stroke="#000" stroke-width="2.6" />
<line x1="978.5" y1="896.2" x2="986" y2="896.2" stroke="#000" stroke-width="2.6" />
<line x1="978.5" y1="938.1" x2="990.5" y2="938.1" stroke="#000" stroke-width="5" />
<text x="967.5" y="948.9" text-anchor="end" fill="#000"><tspan font-weight="bold" font-size="29.3">10</tspan><tspan font-weight="bold" font-size="19.5" dy="-15">-8</tspan></text>
<line x1="978.5" y1="968.8" x2="986" y2="968.8" stroke="#000" stroke-width="2.6" />
<line x1="978.5" y1="961.1" x2="986" y2="961.1" stroke="#000" stroke-width="2.6" />
<line x1="978.5" y1="955.6" x2="986" y2="955.6" stroke="#000" stroke-width="2.6" />
<line x1="978.5" y1="951.3" x2="986" y2="951.3" stroke="#000" stroke-width="2.6" />
<line x1="978.5" y1="947.8" x2="986" y2="947.8" stroke="#000" stroke-width="2.6" />
<line x1="978.5" y1="944.9" x2="986" y2="944.9" stroke="#000" stroke-width="2.6" />
<line x1="978.5" y1="942.4" x2="986" y2="942.4" stroke="#000" stroke-width="2.6" />
<line x1="978.5" y1="940.1" x2="986" y2="940.1" stroke="#000" stroke-width="2.6" />
<line x1="978.5" y1="982" x2="990.5" y2="982" stroke="#000" stroke-width="5" />
<text x="967.5" y="992.8" text-anchor="end" fill="#000"><tspan font-weight="bold" font-size="29.3">10</tspan><tspan font-weight="bold" font-size="19.5" dy="-15">-9</tspan></text>
<line x1="978.5" y1="1012.7" x2="986" y2="1012.7" stroke="#000" stroke-width="2.6" />
<line x1="978.5" y1="1005" x2="986" y2="1005" stroke="#000" stroke-width="2.6" />
<line x1="978.5" y1="999.5" x2="986" y2="999.5" stroke="#000" stroke-width="2.6" />
<line x1="978.5" y1="995.2" x2="986" y2="995.2" stroke="#000" stroke-width="2.6" />
<line x1="978.5" y1="991.7" x2="986" y2="991.7" stroke="#000" stroke-width="2.6" />
<line x1="978.5" y1="988.8" x2="986" y2="988.8" stroke="#000" stroke-width="2.6" />
<line x1="978.5" y1="986.3" x2="986" y2="986.3" stroke="#000" stroke-width="2.6" />
<line x1="978.5" y1="984" x2="986" y2="984" stroke="#000" stroke-width="2.6" />
<line x1="978.5" y1="1025.9" x2="990.5" y2="1025.9" stroke="#000" stroke-width="5" />
<text x="967.5" y="1036.7" text-anchor="end" fill="#000"><tspan font-weight="bold" font-size="29.3">10</tspan><tspan font-weight="bold" font-size="19.5" dy="-15">-10</tspan></text>
<line x1="978.5" y1="1056.6" x2="986" y2="1056.6" stroke="#000" stroke-width="2.6" />
<line x1="978.5" y1="1048.9" x2="986" y2="1048.9" stroke="#000" stroke-width="2.6" />
<line x1="978.5" y1="1043.4" x2="986" y2="1043.4" stroke="#000" stroke-width="2.6" />
<line x1="978.5" y1="1039.1" x2="986" y2="1039.1" stroke="#000" stroke-width="2.6" />
<line x1="978.5" y1="1035.6" x2="986" y2="1035.6" stroke="#000" stroke-width="2.6" />
<line x1="978.5" y1="1032.7" x2="986" y2="1032.7" stroke="#000" stroke-width="2.6" />
<line x1="978.5" y1="1030.2" x2="986" y2="1030.2" stroke="#000" stroke-width="2.6" />
<line x1="978.5" y1="1027.9" x2="986" y2="1027.9" stroke="#000" stroke-width="2.6" />
<line x1="978.5" y1="1069.8" x2="990.5" y2="1069.8" stroke="#000" stroke-width="5" />
<text x="967.5" y="1080.6" text-anchor="end" fill="#000"><tspan font-weight="bold" font-size="29.3">10</tspan><tspan font-weight="bold" font-size="19.5" dy="-15">-11</tspan></text>
<line x1="978.5" y1="1100.5" x2="986" y2="1100.5" stroke="#000" stroke-width="2.6" />
<line x1="978.5" y1="1092.8" x2="986" y2="1092.8" stroke="#000" stroke-width="2.6" />
<line x1="978.5" y1="1087.3" x2="986" y2="1087.3" stroke="#000" stroke-width="2.6" />
<line x1="978.5" y1="1083" x2="986" y2="1083" stroke="#000" stroke-width="2.6" />
<line x1="978.5" y1="1079.5" x2="986" y2="1079.5" stroke="#000" stroke-width="2.6" />
<line x1="978.5" y1="1076.6" x2="986" y2="1076.6" stroke="#000" stroke-width="2.6" />
<line x1="978.5" y1="1074.1" x2="986" y2="1074.1" stroke="#000" stroke-width="2.6" />
<line x1="978.5" y1="1071.8" x2="986" y2="1071.8" stroke="#000" stroke-width="2.6" />
<line x1="978.5" y1="1113.7" x2="990.5" y2="1113.7" stroke="#000" stroke-width="5" />
<text x="967.5" y="1124.5" text-anchor="end" fill="#000"><tspan font-weight="bold" font-size="29.3">10</tspan><tspan font-weight="bold" font-size="19.5" dy="-15">-12</tspan></text>
<line x1="978.5" y1="1144.4" x2="986" y2="1144.4" stroke="#000" stroke-width="2.6" />
<line x1="978.5" y1="1136.7" x2="986" y2="1136.7" stroke="#000" stroke-width="2.6" />
<line x1="978.5" y1="1131.2" x2="986" y2="1131.2" stroke="#000" stroke-width="2.6" />
<line x1="978.5" y1="1126.9" x2="986" y2="1126.9" stroke="#000" stroke-width="2.6" />
<line x1="978.5" y1="1123.4" x2="986" y2="1123.4" stroke="#000" stroke-width="2.6" />
<line x1="978.5" y1="1120.5" x2="986" y2="1120.5" stroke="#000" stroke-width="2.6" />
<line x1="978.5" y1="1118" x2="986" y2="1118" stroke="#000" stroke-width="2.6" />
<line x1="978.5" y1="1115.7" x2="986" y2="1115.7" stroke="#000" stroke-width="2.6" />
<line x1="978.5" y1="1157.6" x2="990.5" y2="1157.6" stroke="#000" stroke-width="5" />
<text x="967.5" y="1168.4" text-anchor="end" fill="#000"><tspan font-weight="bold" font-size="29.3">10</tspan><tspan font-weight="bold" font-size="19.5" dy="-15">-13</tspan></text>
<line x1="978.5" y1="1188.3" x2="986" y2="1188.3" stroke="#000" stroke-width="2.6" />
<line x1="978.5" y1="1180.6" x2="986" y2="1180.6" stroke="#000" stroke-width="2.6" />
<line x1="978.5" y1="1175.1" x2="986" y2="1175.1" stroke="#000" stroke-width="2.6" />
<line x1="978.5" y1="1170.8" x2="986" y2="1170.8" stroke="#000" stroke-width="2.6" />
<line x1="978.5" y1="1167.3" x2="986" y2="1167.3" stroke="#000" stroke-width="2.6" />
<line x1="978.5" y1="1164.4" x2="986" y2="1164.4" stroke="#000" stroke-width="2.6" />
<line x1="978.5" y1="1161.9" x2="986" y2="1161.9" stroke="#000" stroke-width="2.6" />
<line x1="978.5" y1="1159.6" x2="986" y2="1159.6" stroke="#000" stroke-width="2.6" />
<text x="967.5" y="1212.3" text-anchor="end" fill="#000"><tspan font-weight="bold" font-size="29.3">10</tspan><tspan font-weight="bold" font-size="19.5" dy="-15">-14</tspan></text>
<line x1="1626" y1="748.8" x2="1618" y2="748.8" stroke="#000" stroke-width="5" />
<text x="1638.2" y="728.2" text-anchor="start" fill="#000"><tspan font-weight="bold" font-size="23.8">1.6x10</tspan><tspan font-weight="bold" font-size="15" dy="-13">-3</tspan></text>
<line x1="1626" y1="779" x2="1614" y2="779" stroke="#000" stroke-width="5" />
<line x1="1626" y1="809.1" x2="1618" y2="809.1" stroke="#000" stroke-width="5" />
<text x="1638.2" y="788.6" text-anchor="start" fill="#000"><tspan font-weight="bold" font-size="23.8">1.4x10</tspan><tspan font-weight="bold" font-size="15" dy="-13">-3</tspan></text>
<line x1="1626" y1="839.3" x2="1614" y2="839.3" stroke="#000" stroke-width="5" />
<line x1="1626" y1="869.5" x2="1618" y2="869.5" stroke="#000" stroke-width="5" />
<text x="1638.2" y="848.9" text-anchor="start" fill="#000"><tspan font-weight="bold" font-size="23.8">1.2x10</tspan><tspan font-weight="bold" font-size="15" dy="-13">-3</tspan></text>
<line x1="1626" y1="899.7" x2="1614" y2="899.7" stroke="#000" stroke-width="5" />
<line x1="1626" y1="929.9" x2="1618" y2="929.9" stroke="#000" stroke-width="5" />
<text x="1638.2" y="909.3" text-anchor="start" fill="#000"><tspan font-weight="bold" font-size="23.8">1.0x10</tspan><tspan font-weight="bold" font-size="15" dy="-13">-3</tspan></text>
<line x1="1626" y1="960" x2="1614" y2="960" stroke="#000" stroke-width="5" />
<line x1="1626" y1="990.2" x2="1618" y2="990.2" stroke="#000" stroke-width="5" />
<text x="1638.2" y="969.6" text-anchor="start" fill="#000"><tspan font-weight="bold" font-size="23.8">8.0x10</tspan><tspan font-weight="bold" font-size="15" dy="-13">-4</tspan></text>
<line x1="1626" y1="1020.4" x2="1614" y2="1020.4" stroke="#000" stroke-width="5" />
<line x1="1626" y1="1050.6" x2="1618" y2="1050.6" stroke="#000" stroke-width="5" />
<text x="1638.2" y="1030" text-anchor="start" fill="#000"><tspan font-weight="bold" font-size="23.8">6.0x10</tspan><tspan font-weight="bold" font-size="15" dy="-13">-4</tspan></text>
<line x1="1626" y1="1080.8" x2="1614" y2="1080.8" stroke="#000" stroke-width="5" />
<line x1="1626" y1="1111" x2="1618" y2="1111" stroke="#000" stroke-width="5" />
<text x="1638.2" y="1090.4" text-anchor="start" fill="#000"><tspan font-weight="bold" font-size="23.8">4.0x10</tspan><tspan font-weight="bold" font-size="15" dy="-13">-4</tspan></text>
<line x1="1626" y1="1141.1" x2="1614" y2="1141.1" stroke="#000" stroke-width="5" />
<line x1="1626" y1="1171.3" x2="1618" y2="1171.3" stroke="#000" stroke-width="5" />
<text x="1638.2" y="1150.7" text-anchor="start" fill="#000"><tspan font-weight="bold" font-size="23.8">2.0x10</tspan><tspan font-weight="bold" font-size="15" dy="-13">-4</tspan></text>
<text x="1638.2" y="1204.4" text-anchor="start" fill="#000"><tspan font-weight="bold" font-size="23.8">0.0</tspan></text>
<clipPath id="clipc"><rect x="977" y="715.6" width="650.5" height="488.9"/></clipPath>
<g clip-path="url(#clipc)" stroke-linejoin="round">
<path d="M970 1065.1 C972.7 1062.2 975.3 1059.4 978 1056.5 C980.7 1053.7 983.3 1050.8 986 1047.9 C988.7 1045.1 991.3 1042.2 994 1039.3 C996.7 1036.5 999.3 1033.6 1002 1030.8 C1004.7 1027.9 1007.3 1025.1 1010 1022.3 C1012.7 1019.5 1015.3 1016.7 1018 1013.9 C1020.7 1011.2 1023.3 1008.4 1026 1005.6 C1028.7 1002.8 1031.3 1000 1034 997.2 C1036.7 994.3 1039.3 991.4 1042 988.6 C1044.7 985.7 1047.3 982.8 1050 979.9 C1052.7 977 1055.3 974.1 1058 971.2 C1060.7 968.3 1063.3 965.4 1066 962.5 C1068.7 959.6 1071.3 956.7 1074 953.8 C1076.7 950.9 1079.3 948 1082 945.1 C1084.7 942.1 1087.3 939.2 1090 936.3 C1092.7 933.4 1095.3 930.5 1098 927.5 C1100.7 924.6 1103.4 921.7 1106 918.7 C1108.7 915.7 1111.4 912.7 1114 909.7 C1116.7 906.6 1119.4 903.5 1122 900.4 C1124.7 897.2 1127.4 894 1130 890.8 C1132.7 887.5 1135.4 884.1 1138 880.8 C1140.7 877.4 1143.3 874 1146 870.6 C1148.7 867.1 1151.3 863.6 1154 860.2 C1156.7 856.7 1159.3 853.2 1162 849.8 C1164.7 846.3 1167.3 842.9 1170 839.4 C1172.7 836 1175.3 832.6 1178 829.2 C1180.7 825.8 1183.3 822.5 1186 819.1 C1188.7 815.8 1191.3 812.5 1194 809.2 C1196.6 805.9 1199.3 802.7 1202 799.5 C1204.6 796.3 1207.3 793.2 1210 790.1 C1212.6 787.2 1215.3 784.3 1218 781.6 C1220.6 778.9 1223.2 776.2 1226 773.7 C1228.6 771.3 1231.3 769 1234 766.8 C1236.6 764.7 1239.3 762.7 1242 760.8 C1244.6 759 1247.3 757.3 1250 755.7 C1252.6 754.2 1255.3 752.8 1258 751.6 C1260.6 750.3 1263.3 749.1 1266 748.1 C1268.6 747.1 1271.3 746.3 1274 745.4 C1276.6 744.6 1279.3 743.9 1282 743.2 C1284.6 742.6 1287.3 742.1 1290 741.6 C1292.7 741.1 1295.3 740.6 1298 740.1 C1300.7 739.7 1303.3 739.3 1306 738.8 C1308.7 738.4 1311.3 738 1314 737.6 C1316.7 737.2 1319.3 736.9 1322 736.5 C1324.7 736.2 1327.3 735.9 1330 735.6 C1332.7 735.3 1335.3 735.1 1338 734.8 C1340.7 734.6 1343.3 734.3 1346 734.1 C1348.7 733.9 1351.3 733.7 1354 733.5 C1356.7 733.3 1359.3 733.1 1362 732.9 C1364.7 732.7 1367.3 732.5 1370 732.3 C1372.7 732.1 1375.3 731.9 1378 731.7 C1380.7 731.6 1383.3 731.5 1386 731.3 C1388.7 731.2 1391.3 731.1 1394 731 C1396.7 730.9 1399.3 730.8 1402 730.7 C1404.7 730.6 1407.3 730.5 1410 730.4 C1412.7 730.3 1415.3 730.2 1418 730.1 C1420.7 730 1423.3 729.9 1426 729.8 C1428.7 729.7 1431.3 729.6 1434 729.5 C1436.7 729.4 1439.3 729.3 1442 729.3 C1444.7 729.2 1447.3 729.2 1450 729.1 C1452.7 729.1 1455.3 729 1458 729 C1460.7 728.9 1463.3 728.9 1466 728.9 C1468.7 728.8 1471.3 728.8 1474 728.7 C1476.7 728.7 1479.3 728.6 1482 728.6 C1484.7 728.6 1487.3 728.5 1490 728.5 C1492.7 728.4 1495.3 728.4 1498 728.4 C1500.7 728.3 1503.3 728.3 1506 728.2 C1508.7 728.2 1511.3 728.1 1514 728.1 C1516.7 728.1 1519.3 728 1522 728 C1524.7 728 1527.3 727.9 1530 727.9 C1532.7 727.9 1535.3 727.9 1538 727.8 C1540.7 727.8 1543.3 727.8 1546 727.8 C1548.7 727.7 1551.3 727.7 1554 727.7 C1556.7 727.7 1559.3 727.6 1562 727.6 C1564.7 727.6 1567.3 727.6 1570 727.5 C1572.7 727.5 1575.3 727.5 1578 727.5 C1580.7 727.4 1583.3 727.4 1586 727.4 C1588.7 727.4 1591.3 727.3 1594 727.3 C1596.7 727.3 1599.3 727.3 1602 727.2 C1604.7 727.2 1607.3 727.2 1610 727.2 C1612.7 727.1 1615.3 727.1 1618 727.1 C1620.7 727.1 1623.3 727 1626 727" fill="none" stroke="#000" stroke-width="5.4" />
<path d="M970 1064.1 C972 1061.9 974 1059.8 976 1057.6 C978 1055.4 980 1053.3 982 1051.1 C984 1048.9 986 1046.7 988 1044.5 C990 1042.4 992 1040.2 994 1038 C996 1035.8 998 1033.6 1000 1031.5 C1002 1029.3 1004 1027.1 1006 1025 C1008 1022.8 1010 1020.7 1012 1018.6 C1014 1016.5 1016 1014.3 1018 1012.2 C1020 1010.1 1022 1008 1024 1005.9 C1026 1003.7 1028 1001.6 1030 999.5 C1032 997.3 1034 995 1036 992.8 C1038 990.5 1040 988.1 1042 985.8 C1044 983.5 1046 981.1 1048 978.8 C1050 976.4 1052 974.1 1054 971.7 C1056 969.4 1058 967.1 1060 964.7 C1062 962.4 1064 960 1066 957.7 C1068 955.4 1070 953 1072 950.7 C1074 948.4 1076 946.2 1078 943.9 C1080 941.6 1082 939.3 1084 937 C1086 934.7 1088 932.5 1090 930.2 C1092 927.9 1094 925.6 1096 923.3 C1098 921 1100.1 918.6 1102 916.1 C1104.1 913.5 1106 910.7 1108 908 C1110 905.2 1112 902.4 1114 899.5 C1116 896.7 1118 893.9 1120 891 C1122 888.2 1124 885.4 1126 882.6 C1128 879.8 1130 877 1132 874.2 C1134 871.4 1136 868.6 1138 865.8 C1140 863 1142 860.3 1144 857.6 C1146 854.9 1148 852.3 1150 849.7 C1152 847.1 1154 844.5 1156 841.8 C1158 839.1 1160 836.4 1162 833.7 C1164 830.9 1166.1 828.1 1168 825.2 C1170.1 822.1 1172.1 818.9 1174 815.7 C1176.1 812.1 1178.1 808.3 1180 804.6 C1182.1 800.3 1184.1 796 1186 791.6 C1188.1 786.8 1190 782 1192 777.2 C1194 772.5 1195.8 767.8 1198 763.2 C1199.9 759.2 1201.6 755.1 1204 751.4 C1205.8 748.6 1207.6 745.7 1210 743.5 C1211.8 741.9 1213.9 740.5 1216 739.4 C1217.9 738.5 1220 737.9 1222 737.3 C1224 736.8 1226 736.4 1228 736.1 C1230 735.7 1232 735.4 1234 735.1 C1236 734.8 1238 734.5 1240 734.3 C1242 734.1 1244 734 1246 733.9 C1248 733.7 1250 733.6 1252 733.5 C1254 733.4 1256 733.2 1258 733.1 C1260 733 1262 732.9 1264 732.8 C1266 732.7 1268 732.6 1270 732.5 C1272 732.4 1274 732.4 1276 732.3 C1278 732.3 1280 732.2 1282 732.1 C1284 732.1 1286 732 1288 731.9 C1290 731.9 1292 731.8 1294 731.7 C1296 731.7 1298 731.6 1300 731.5 C1302 731.5 1304 731.4 1306 731.4 C1308 731.3 1310 731.2 1312 731.2 C1314 731.1 1316 731 1318 731 C1320 730.9 1322 730.9 1324 730.8 C1326 730.8 1328 730.8 1330 730.7 C1332 730.7 1334 730.7 1336 730.6 C1338 730.6 1340 730.5 1342 730.5 C1344 730.5 1346 730.4 1348 730.4 C1350 730.4 1352 730.3 1354 730.3 C1356 730.3 1358 730.2 1360 730.2 C1362 730.2 1364 730.1 1366 730.1 C1368 730.1 1370 730 1372 730 C1374 730 1376 729.9 1378 729.9 C1380 729.8 1382 729.8 1384 729.8 C1386 729.7 1388 729.7 1390 729.7 C1392 729.6 1394 729.6 1396 729.6 C1398 729.5 1400 729.5 1402 729.5 C1404 729.4 1406 729.4 1408 729.4 C1410 729.4 1412 729.3 1414 729.3 C1416 729.3 1418 729.3 1420 729.2 C1422 729.2 1424 729.2 1426 729.2 C1428 729.1 1430 729.1 1432 729.1 C1434 729.1 1436 729 1438 729 C1440 729 1442 729 1444 728.9 C1446 728.9 1448 728.9 1450 728.9 C1452 728.8 1454 728.8 1456 728.8 C1458 728.7 1460 728.7 1462 728.7 C1464 728.7 1466 728.6 1468 728.6 C1470 728.6 1472 728.6 1474 728.5 C1476 728.5 1478 728.5 1480 728.5 C1482 728.4 1484 728.4 1486 728.4 C1488 728.4 1490 728.3 1492 728.3 C1494 728.3 1496 728.3 1498 728.2 C1500 728.2 1502 728.2 1504 728.1 C1506 728.1 1508 728.1 1510 728.1 C1512 728 1514 728 1516 728 C1518 728 1520 727.9 1522 727.9 C1524 727.9 1526 727.8 1528 727.8 C1530 727.8 1532 727.8 1534 727.7 C1536 727.7 1538 727.7 1540 727.7 C1542 727.6 1544 727.6 1546 727.6 C1548 727.6 1550 727.5 1552 727.5 C1554 727.5 1556 727.4 1558 727.4 C1560 727.4 1562 727.4 1564 727.3 C1566 727.3 1568 727.3 1570 727.3 C1572 727.2 1574 727.2 1576 727.2 C1578 727.1 1580 727.1 1582 727.1 C1584 727.1 1586 727 1588 727 C1590 727 1592 727 1594 726.9 C1596 726.9 1598 726.9 1600 726.9 C1602 726.8 1604 726.8 1606 726.8 C1608 726.7 1610 726.7 1612 726.7 C1614 726.7 1616 726.6 1618 726.6 C1620 726.6 1622 726.6 1624 726.5 C1624.7 726.5 1625.3 726.5 1626 726.5" fill="none" stroke="#FF0000" stroke-width="5.4" />
<path d="M1143.8 732.9 L1151.2 732.7" fill="none" stroke="#0B7D12" stroke-width="5.4" />
<path d="M970 1067.5 C972.7 1064.5 975.3 1061.6 978 1058.6 C980.6 1055.6 983.3 1052.6 985.9 1049.6 C988.6 1046.6 991.2 1043.6 993.9 1040.6 C996.5 1037.6 999.2 1034.6 1001.9 1031.6 C1004.5 1028.6 1007.2 1025.7 1009.8 1022.7 C1012.5 1019.8 1015.1 1016.9 1017.8 1014 C1020.4 1011.1 1023.1 1008.2 1025.8 1005.3 C1028.4 1002.3 1031.1 999.3 1033.7 996.3 C1036.4 993.2 1039 990 1041.7 986.8 C1044.4 983.6 1047 980.4 1049.6 977.1 C1052.3 973.9 1055 970.7 1057.6 967.5 C1060.3 964.2 1062.9 961 1065.6 957.8 C1068.2 954.5 1070.9 951.2 1073.5 948 C1076.2 944.7 1078.9 941.4 1081.5 938.1 C1084.2 934.7 1086.9 931.4 1089.5 928 C1092.2 924.5 1094.9 921.1 1097.4 917.4 C1100.3 913.3 1102.8 909 1105.4 904.7 C1108.1 900.3 1110.7 895.7 1113.4 891.2 C1116 886.7 1118.7 882.3 1121.3 877.8 C1124 873.2 1126.7 868.7 1129.3 864.1 C1132 859.4 1134.7 854.7 1137.3 849.9 C1140 844.7 1142.8 839.4 1145.2 834.1 C1147.4 829.4 1149.2 824.6 1151.2 819.9 L1151.2 732.7 1151.2 732.7 C1165.6 732.2 1180 731.8 1194.4 731.3 C1208.9 730.8 1223.5 730 1238 729.5 C1258.7 728.7 1279.3 728.1 1300 727.5 C1408.6 724.4 1517.3 725.8 1626 725" fill="none" stroke="#0B7D12" stroke-width="5.4" />
<path d="M978.5 1201.5 C980.5 1201.5 982.5 1201.5 984.5 1201.5 C986.5 1201.5 988.5 1201.5 990.5 1201.5 C992.5 1201.5 994.5 1201.5 996.5 1201.5 C998.5 1201.5 1000.5 1201.5 1002.5 1201.5 C1004.5 1201.5 1006.5 1201.5 1008.5 1201.5 C1010.5 1201.5 1012.5 1201.5 1014.5 1201.5 C1016.5 1201.5 1018.5 1201.5 1020.5 1201.5 C1022.5 1201.5 1024.5 1201.5 1026.5 1201.5 C1028.5 1201.5 1030.5 1201.5 1032.5 1201.5 C1034.5 1201.5 1036.5 1201.5 1038.5 1201.5 C1040.5 1201.5 1042.5 1201.5 1044.4 1201.5 C1046.4 1201.5 1048.4 1201.5 1050.4 1201.5 C1052.4 1201.5 1054.4 1201.5 1056.4 1201.5 C1058.4 1201.5 1060.4 1201.5 1062.4 1201.5 C1064.4 1201.5 1066.4 1201.5 1068.4 1201.5 C1070.4 1201.5 1072.4 1201.5 1074.4 1201.5 C1076.4 1201.5 1078.4 1201.5 1080.4 1201.5 C1082.4 1201.5 1084.4 1201.5 1086.4 1201.5 C1088.4 1201.5 1090.4 1201.5 1092.4 1201.5 C1094.4 1201.5 1096.4 1201.5 1098.4 1201.5 C1100.4 1201.5 1102.4 1201.5 1104.4 1201.5 C1106.4 1201.5 1108.4 1201.5 1110.4 1201.5 C1112.4 1201.5 1114.4 1201.5 1116.4 1201.5 C1118.4 1201.5 1120.4 1201.5 1122.4 1201.5 C1124.4 1201.5 1126.4 1201.5 1128.4 1201.5 C1130.4 1201.5 1132.4 1201.5 1134.4 1201.5 C1136.4 1201.5 1138.4 1201.5 1140.4 1201.5 C1142.4 1201.5 1144.4 1201.5 1146.4 1201.5 C1148.4 1201.5 1150.4 1201.5 1152.4 1201.4 C1154.4 1201.4 1156.4 1201.3 1158.4 1201.3 C1160.4 1201.2 1162.4 1201.2 1164.4 1201.1 C1166.4 1201.1 1168.4 1201.1 1170.4 1201 C1172.4 1201 1174.3 1200.9 1176.3 1200.8 C1178.3 1200.8 1180.3 1200.7 1182.3 1200.6 C1184.3 1200.5 1186.3 1200.3 1188.3 1200.1 C1190.3 1199.9 1192.3 1199.8 1194.3 1199.5 C1196.3 1199.3 1198.3 1199.1 1200.3 1198.8 C1202.3 1198.5 1204.4 1198.1 1206.3 1197.7 C1208.3 1197.2 1210.4 1196.5 1212.3 1195.8 C1214.4 1195.1 1216.4 1194.2 1218.3 1193.3 C1220.4 1192.3 1222.4 1191.1 1224.3 1189.9 C1226.4 1188.5 1228.4 1187.1 1230.3 1185.5 C1232.4 1183.8 1234.4 1181.9 1236.3 1179.9 C1238.4 1177.8 1240.4 1175.4 1242.3 1173.1 C1244.4 1170.6 1246.3 1168 1248.3 1165.3 C1250.3 1162.6 1252.3 1159.8 1254.3 1157 C1256.3 1154.2 1258.3 1151.4 1260.3 1148.7 C1262.3 1145.9 1264.3 1143.1 1266.3 1140.3 C1268.3 1137.5 1270.3 1134.7 1272.3 1132 C1274.2 1129.3 1276.2 1126.6 1278.3 1123.9 C1280.2 1121.4 1282.2 1118.9 1284.3 1116.4 C1286.2 1114.1 1288.2 1111.8 1290.3 1109.5 C1292.2 1107.4 1294.2 1105.2 1296.3 1103.2 C1298.2 1101.2 1300.2 1099.2 1302.2 1097.3 C1304.2 1095.4 1306.2 1093.6 1308.2 1091.8 C1310.2 1090.1 1312.2 1088.4 1314.2 1086.8 C1316.2 1085.2 1318.2 1083.7 1320.2 1082.2 C1322.2 1080.7 1324.2 1079.3 1326.2 1077.9 C1328.2 1076.6 1330.2 1075.2 1332.2 1073.9 C1334.2 1072.6 1336.2 1071.4 1338.2 1070.1 C1340.2 1068.9 1342.2 1067.6 1344.2 1066.4 C1346.2 1065.1 1348.2 1063.9 1350.2 1062.8 C1352.2 1061.6 1354.2 1060.5 1356.2 1059.4 C1358.2 1058.4 1360.2 1057.3 1362.2 1056.3 C1364.2 1055.2 1366.2 1054.2 1368.2 1053.1 C1370.2 1052.2 1372.2 1051.2 1374.2 1050.2 C1376.2 1049.3 1378.2 1048.4 1380.2 1047.5 C1382.2 1046.7 1384.2 1045.8 1386.2 1044.9 C1388.2 1044.1 1390.2 1043.2 1392.2 1042.4 C1394.2 1041.6 1396.2 1040.8 1398.2 1040 C1400.2 1039.2 1402.2 1038.4 1404.2 1037.7 C1406.2 1036.9 1408.2 1036.2 1410.2 1035.4 C1412.2 1034.7 1414.2 1034 1416.2 1033.3 C1418.2 1032.6 1420.2 1031.9 1422.2 1031.3 C1424.2 1030.6 1426.2 1030 1428.2 1029.3 C1430.1 1028.7 1432.1 1028 1434.1 1027.4 C1436.1 1026.8 1438.1 1026.2 1440.1 1025.7 C1442.1 1025.1 1444.1 1024.5 1446.1 1024 C1448.1 1023.4 1450.1 1022.9 1452.1 1022.3 C1454.1 1021.8 1456.1 1021.2 1458.1 1020.7 C1460.1 1020.1 1462.1 1019.6 1464.1 1019.1 C1466.1 1018.5 1468.1 1018 1470.1 1017.5 C1472.1 1016.9 1474.1 1016.4 1476.1 1015.9 C1478.1 1015.4 1480.1 1014.9 1482.1 1014.4 C1484.1 1013.9 1486.1 1013.5 1488.1 1013.1 C1490.1 1012.6 1492.1 1012.2 1494.1 1011.8 C1496.1 1011.3 1498.1 1010.9 1500.1 1010.5 C1502.1 1010 1504.1 1009.6 1506.1 1009.2 C1508.1 1008.8 1510.1 1008.3 1512.1 1007.9 C1514.1 1007.5 1516.1 1007.1 1518.1 1006.7 C1520.1 1006.3 1522.1 1005.9 1524.1 1005.5 C1526.1 1005.1 1528.1 1004.7 1530.1 1004.3 C1532.1 1003.9 1534.1 1003.5 1536.1 1003.1 C1538.1 1002.6 1540.1 1002.2 1542.1 1001.8 C1544.1 1001.4 1546.1 1001 1548.1 1000.6 C1550.1 1000.2 1552.1 999.8 1554.1 999.4 C1556.1 999 1558.1 998.6 1560.1 998.2 C1562 997.8 1564 997.4 1566 997.1 C1568 996.7 1570 996.3 1572 996 C1574 995.7 1576 995.3 1578 995 C1580 994.7 1582 994.3 1584 994 C1586 993.7 1588 993.3 1590 993 C1592 992.7 1594 992.3 1596 992 C1598 991.7 1600 991.3 1602 991 C1604 990.7 1606 990.3 1608 990 C1610 989.7 1612 989.3 1614 989 C1616 988.7 1618 988.3 1620 988 C1622 987.7 1624 987.3 1626 987" fill="none" stroke="#000" stroke-width="5.4" />
<path d="M978.5 1201.5 C979.8 1201.5 981.2 1201.5 982.5 1201.5 C983.8 1201.5 985.2 1201.5 986.5 1201.5 C987.8 1201.5 989.2 1201.5 990.5 1201.5 C991.8 1201.5 993.2 1201.5 994.5 1201.5 C995.8 1201.5 997.2 1201.5 998.5 1201.5 C999.8 1201.5 1001.1 1201.5 1002.5 1201.5 C1003.8 1201.5 1005.1 1201.5 1006.5 1201.5 C1007.8 1201.5 1009.1 1201.5 1010.5 1201.5 C1011.8 1201.5 1013.1 1201.5 1014.5 1201.5 C1015.8 1201.5 1017.1 1201.5 1018.5 1201.5 C1019.8 1201.5 1021.1 1201.5 1022.5 1201.5 C1023.8 1201.5 1025.1 1201.5 1026.5 1201.5 C1027.8 1201.5 1029.1 1201.5 1030.5 1201.5 C1031.8 1201.5 1033.1 1201.5 1034.5 1201.5 C1035.8 1201.5 1037.1 1201.5 1038.5 1201.5 C1039.8 1201.5 1041.1 1201.5 1042.5 1201.5 C1043.8 1201.5 1045.1 1201.5 1046.4 1201.5 C1047.8 1201.5 1049.1 1201.5 1050.4 1201.5 C1051.8 1201.5 1053.1 1201.5 1054.4 1201.5 C1055.8 1201.5 1057.1 1201.5 1058.4 1201.5 C1059.8 1201.5 1061.1 1201.5 1062.4 1201.5 C1063.8 1201.5 1065.1 1201.5 1066.4 1201.5 C1067.8 1201.5 1069.1 1201.5 1070.4 1201.5 C1071.8 1201.5 1073.1 1201.5 1074.4 1201.5 C1075.8 1201.5 1077.1 1201.5 1078.4 1201.5 C1079.8 1201.5 1081.1 1201.5 1082.4 1201.5 C1083.8 1201.5 1085.1 1201.5 1086.4 1201.5 C1087.7 1201.5 1089.1 1201.5 1090.4 1201.5 C1091.7 1201.5 1093.1 1201.5 1094.4 1201.5 C1095.7 1201.5 1097.1 1201.5 1098.4 1201.5 C1099.7 1201.5 1101.1 1201.5 1102.4 1201.5 C1103.7 1201.5 1105.1 1201.5 1106.4 1201.5 C1107.7 1201.5 1109.1 1201.5 1110.4 1201.5 C1111.7 1201.5 1113.1 1201.5 1114.4 1201.5 C1115.7 1201.5 1117.1 1201.5 1118.4 1201.5 C1119.7 1201.5 1121.1 1201.5 1122.4 1201.5 C1123.7 1201.5 1125.1 1201.5 1126.4 1201.5 C1127.7 1201.5 1129.1 1201.5 1130.4 1201.5 C1131.7 1201.5 1133 1201.5 1134.4 1201.5 C1135.7 1201.4 1137 1201.4 1138.4 1201.3 C1139.7 1201.3 1141 1201.2 1142.4 1201.2 C1143.7 1201.1 1145 1201.1 1146.4 1201 C1147.7 1200.9 1149 1200.9 1150.4 1200.8 C1151.7 1200.8 1153 1200.7 1154.4 1200.6 C1155.7 1200.6 1157 1200.5 1158.4 1200.4 C1159.7 1200.4 1161 1200.3 1162.4 1200.2 C1163.7 1200.1 1165 1200 1166.4 1200 C1167.7 1199.9 1169 1199.8 1170.4 1199.7 C1171.7 1199.5 1173 1199.4 1174.3 1199.2 C1175.7 1198.9 1177 1198.7 1178.3 1198.4 C1179.7 1198.1 1181.1 1197.8 1182.3 1197.2 C1183.7 1196.7 1185.1 1195.9 1186.3 1195 C1187.8 1193.9 1189.1 1192.5 1190.3 1191 C1191.9 1189.1 1193.2 1186.8 1194.3 1184.6 C1196 1181.5 1197.2 1178.2 1198.3 1174.9 C1200 1170 1201.1 1164.9 1202.3 1159.9 C1203.8 1153.6 1205 1147.2 1206.3 1140.9 C1207.6 1134.8 1208.8 1128.7 1210.3 1122.7 C1211.5 1117.8 1212.8 1112.9 1214.3 1108.1 C1215.5 1104.3 1216.8 1100.6 1218.3 1097 C1219.5 1094 1220.8 1091.1 1222.3 1088.3 C1223.5 1085.9 1224.9 1083.6 1226.3 1081.3 C1227.6 1079.3 1228.9 1077.4 1230.3 1075.5 C1231.6 1073.7 1232.9 1071.9 1234.3 1070.3 C1235.6 1068.8 1236.9 1067.4 1238.3 1066 C1239.6 1064.7 1240.9 1063.6 1242.3 1062.4 C1243.6 1061.3 1244.9 1060.2 1246.3 1059.1 C1247.6 1058.1 1248.9 1057.3 1250.3 1056.4 C1251.6 1055.5 1253 1054.6 1254.3 1053.7 C1255.6 1052.9 1257 1052 1258.3 1051.1 C1259.6 1050.3 1260.9 1049.4 1262.3 1048.6 C1263.6 1047.7 1264.9 1046.9 1266.3 1046.1 C1267.6 1045.4 1268.9 1044.8 1270.3 1044.2 C1271.6 1043.6 1272.9 1043 1274.3 1042.5 C1275.6 1041.9 1276.9 1041.3 1278.3 1040.7 C1279.6 1040.2 1280.9 1039.6 1282.3 1039 C1283.6 1038.5 1284.9 1037.9 1286.3 1037.4 C1287.6 1036.8 1288.9 1036.4 1290.3 1035.9 C1291.6 1035.5 1292.9 1035 1294.3 1034.6 C1295.6 1034.2 1296.9 1033.8 1298.3 1033.3 C1299.6 1032.9 1300.9 1032.5 1302.2 1032.1 C1303.6 1031.6 1304.9 1031.2 1306.2 1030.8 C1307.6 1030.4 1308.9 1030 1310.2 1029.5 C1311.6 1029.1 1312.9 1028.7 1314.2 1028.3 C1315.6 1027.9 1316.9 1027.5 1318.2 1027.1 C1319.6 1026.7 1320.9 1026.3 1322.2 1025.9 C1323.6 1025.5 1324.9 1025.1 1326.2 1024.7 C1327.6 1024.3 1328.9 1024 1330.2 1023.6 C1331.6 1023.2 1332.9 1022.9 1334.2 1022.6 C1335.6 1022.2 1336.9 1021.9 1338.2 1021.6 C1339.6 1021.2 1340.9 1020.9 1342.2 1020.6 C1343.6 1020.3 1344.9 1019.9 1346.2 1019.6 C1347.5 1019.3 1348.9 1018.9 1350.2 1018.6 C1351.5 1018.3 1352.9 1018 1354.2 1017.7 C1355.5 1017.4 1356.9 1017.1 1358.2 1016.8 C1359.5 1016.5 1360.9 1016.2 1362.2 1015.9 C1363.5 1015.6 1364.9 1015.2 1366.2 1014.9 C1367.5 1014.6 1368.9 1014.3 1370.2 1014 C1371.5 1013.8 1372.9 1013.5 1374.2 1013.2 C1375.5 1012.9 1376.9 1012.7 1378.2 1012.4 C1379.5 1012.1 1380.9 1011.9 1382.2 1011.6 C1383.5 1011.3 1384.9 1011.1 1386.2 1010.8 C1387.5 1010.5 1388.8 1010.3 1390.2 1010 C1391.5 1009.7 1392.8 1009.4 1394.2 1009.2 C1395.5 1008.9 1396.8 1008.6 1398.2 1008.4 C1399.5 1008.1 1400.8 1007.8 1402.2 1007.6 C1403.5 1007.3 1404.8 1007 1406.2 1006.8 C1407.5 1006.5 1408.8 1006.2 1410.2 1006 C1411.5 1005.7 1412.8 1005.4 1414.2 1005.2 C1415.5 1004.9 1416.8 1004.7 1418.2 1004.4 C1419.5 1004.2 1420.8 1003.9 1422.2 1003.6 C1423.5 1003.4 1424.8 1003.1 1426.2 1002.9 C1427.5 1002.6 1428.8 1002.4 1430.2 1002.1 C1431.5 1001.9 1432.8 1001.6 1434.1 1001.4 C1435.5 1001.2 1436.8 1001 1438.1 1000.8 C1439.5 1000.6 1440.8 1000.4 1442.1 1000.2 C1443.5 1000 1444.8 999.8 1446.1 999.6 C1447.5 999.4 1448.8 999.2 1450.1 999 C1451.5 998.8 1452.8 998.6 1454.1 998.4 C1455.5 998.2 1456.8 998 1458.1 997.8 C1459.5 997.6 1460.8 997.4 1462.1 997.2 C1463.5 997 1464.8 996.8 1466.1 996.5 C1467.5 996.3 1468.8 996.1 1470.1 995.9 C1471.5 995.7 1472.8 995.5 1474.1 995.2 C1475.4 995 1476.8 994.8 1478.1 994.6 C1479.4 994.4 1480.8 994.2 1482.1 994 C1483.4 993.8 1484.8 993.6 1486.1 993.4 C1487.4 993.2 1488.8 993 1490.1 992.8 C1491.4 992.6 1492.8 992.4 1494.1 992.2 C1495.4 992 1496.8 991.8 1498.1 991.6 C1499.4 991.3 1500.8 991.1 1502.1 990.9 C1503.4 990.7 1504.8 990.5 1506.1 990.3 C1507.4 990.1 1508.8 989.9 1510.1 989.7 C1511.4 989.5 1512.8 989.3 1514.1 989.1 C1515.4 988.9 1516.8 988.7 1518.1 988.5 C1519.4 988.4 1520.7 988.2 1522.1 988 C1523.4 987.8 1524.7 987.6 1526.1 987.4 C1527.4 987.2 1528.7 987 1530.1 986.8 C1531.4 986.6 1532.7 986.4 1534.1 986.2 C1535.4 986 1536.7 985.8 1538.1 985.6 C1539.4 985.4 1540.7 985.2 1542.1 985 C1543.4 984.8 1544.7 984.6 1546.1 984.4 C1547.4 984.2 1548.7 984 1550.1 983.8 C1551.4 983.6 1552.7 983.5 1554.1 983.3 C1555.4 983.1 1556.7 982.9 1558.1 982.7 C1559.4 982.5 1560.7 982.3 1562 982.1 C1563.4 981.9 1564.7 981.7 1566 981.5 C1567.4 981.3 1568.7 981.2 1570 981 C1571.4 980.8 1572.7 980.6 1574 980.5 C1575.4 980.3 1576.7 980.1 1578 980 C1579.4 979.8 1580.7 979.6 1582 979.4 C1583.4 979.3 1584.7 979.1 1586 978.9 C1587.4 978.8 1588.7 978.6 1590 978.4 C1591.4 978.2 1592.7 978.1 1594 977.9 C1595.4 977.7 1596.7 977.6 1598 977.4 C1599.4 977.2 1600.7 977 1602 976.9 C1603.4 976.7 1604.7 976.5 1606 976.4 C1607.3 976.2 1608.7 976 1610 975.9 C1611.3 975.7 1612.7 975.5 1614 975.3 C1615.3 975.2 1616.7 975 1618 974.8 C1619.3 974.7 1620.7 974.5 1622 974.3 C1623.3 974.1 1624.7 974 1626 973.8" fill="none" stroke="#FF0000" stroke-width="5.4" />
<path d="M978.5 1201.5 L1151.4 1201.5 L1151.4 1052.1 1151.4 1052.1 C1154.1 1050.6 1156.7 1049 1159.4 1047.5 C1162.1 1046 1164.7 1044.6 1167.4 1043.2 C1170.1 1041.9 1172.7 1040.6 1175.4 1039.4 C1178.1 1038.2 1180.8 1037 1183.4 1035.9 C1186.1 1034.8 1188.8 1033.8 1191.5 1032.7 C1194.1 1031.7 1196.8 1030.7 1199.5 1029.7 C1202.1 1028.8 1204.8 1027.8 1207.5 1027 C1210.1 1026.1 1212.8 1025.3 1215.5 1024.5 C1218.1 1023.7 1220.8 1022.9 1223.5 1022.2 C1226.2 1021.4 1228.8 1020.7 1231.5 1020 C1234.2 1019.3 1236.8 1018.7 1239.5 1018 C1242.2 1017.4 1244.8 1016.7 1247.5 1016.1 C1250.2 1015.5 1252.9 1014.9 1255.5 1014.3 C1258.2 1013.7 1260.9 1013.2 1263.5 1012.6 C1266.2 1012 1268.9 1011.5 1271.6 1010.9 C1274.2 1010.4 1276.9 1009.8 1279.6 1009.3 C1282.2 1008.8 1284.9 1008.2 1287.6 1007.7 C1290.2 1007.2 1292.9 1006.7 1295.6 1006.3 C1298.3 1005.8 1300.9 1005.3 1303.6 1004.9 C1306.3 1004.4 1308.9 1003.9 1311.6 1003.5 C1314.3 1003 1316.9 1002.5 1319.6 1002.1 C1322.3 1001.6 1325 1001.2 1327.6 1000.7 C1330.3 1000.3 1333 999.9 1335.6 999.5 C1338.3 999 1341 998.6 1343.6 998.2 C1346.3 997.8 1349 997.4 1351.7 997 C1354.3 996.6 1357 996.2 1359.7 995.8 C1362.3 995.4 1365 995 1367.7 994.6 C1370.3 994.3 1373 993.9 1375.7 993.5 C1378.4 993.1 1381 992.7 1383.7 992.4 C1386.4 992 1389 991.6 1391.7 991.3 C1394.4 990.9 1397 990.5 1399.7 990.1 C1402.4 989.8 1405.1 989.4 1407.7 989 C1410.4 988.7 1413.1 988.3 1415.7 988 C1418.4 987.7 1421.1 987.3 1423.7 987 C1426.4 986.7 1429.1 986.4 1431.8 986.1 C1434.4 985.7 1437.1 985.4 1439.8 985.1 C1442.4 984.8 1445.1 984.5 1447.8 984.2 C1450.4 983.8 1453.1 983.5 1455.8 983.2 C1458.5 982.9 1461.1 982.6 1463.8 982.3 C1466.5 982 1469.1 981.7 1471.8 981.4 C1474.5 981.1 1477.1 980.8 1479.8 980.5 C1482.5 980.2 1485.2 979.9 1487.8 979.6 C1490.5 979.3 1493.2 979 1495.8 978.8 C1498.5 978.5 1501.2 978.2 1503.8 977.9 C1506.5 977.6 1509.2 977.3 1511.9 977 C1514.5 976.8 1517.2 976.5 1519.9 976.3 C1522.5 976.1 1525.2 975.8 1527.9 975.6 C1530.5 975.4 1533.2 975.1 1535.9 974.9 C1538.6 974.7 1541.2 974.4 1543.9 974.2 C1546.6 974 1549.2 973.7 1551.9 973.5 C1554.6 973.3 1557.2 973.1 1559.9 972.8 C1562.6 972.6 1565.3 972.4 1567.9 972.2 C1570.6 971.9 1573.3 971.7 1575.9 971.5 C1578.6 971.3 1581.3 971.1 1583.9 970.9 C1586.6 970.7 1589.3 970.5 1592 970.3 C1594.6 970.1 1597.3 969.8 1600 969.6 C1602.6 969.4 1605.3 969.2 1608 969 C1610.6 968.8 1613.3 968.6 1616 968.4 C1618.7 968.2 1621.3 968 1624 967.8 C1624.7 967.7 1625.3 967.7 1626 967.6" fill="none" stroke="#0B7D12" stroke-width="5.4" />
<path d="M1144.1 1056.3 L1151.4 1052.1" fill="none" stroke="#0B7D12" stroke-width="5.4" />
<path d="M1134.8 1071.6 L1132.7 1083.1" fill="none" stroke="#0B7D12" stroke-width="4" />
<path d="M1132.6 1090 V1196" fill="none" stroke="#063" stroke-width="2" stroke-dasharray="9 7"/>
<path d="M1132.6 736 V843" fill="none" stroke="#003" stroke-width="2" stroke-dasharray="9 7"/>
<path d="M1122 729.3 L1046 729.6 Q1032.6 730 1032.6 743 L1032.6 999" fill="none" stroke="#0000FF" stroke-width="5.8" stroke-dasharray="13.2 11.6" stroke-dashoffset="3"/>
<path d="M1121 1021.9 C1114.3 1023.5 1107.5 1024.9 1100.8 1026.8 C1092.3 1029.2 1083.9 1032 1075.6 1035 C1067.3 1038 1058.9 1040.9 1051 1044.9 C1047.7 1046.6 1044.1 1048.1 1041.2 1050.4 C1038.9 1052.3 1036.4 1054.4 1035 1057 C1033.6 1059.6 1033.5 1063 1032.8 1066 L1032.6 1201" fill="none" stroke="#0000FF" stroke-width="5.8" stroke-dasharray="14 11.5"/>
<path d="M970 1082.6 C972.7 1079.2 975.3 1075.7 978 1072.3 C980.6 1068.8 983.3 1065.4 986 1062 C988.6 1058.5 991.3 1055.1 993.9 1051.6 C996.6 1048.2 999.2 1044.8 1001.9 1041.3 C1004.6 1037.9 1007.2 1034.4 1009.9 1031 C1012.5 1027.5 1015.2 1024 1017.9 1020.6 C1020.5 1017.1 1023.2 1013.7 1025.8 1010.2 C1028.5 1006.8 1031.1 1003.3 1033.8 999.8 C1036.5 996.3 1039.1 992.8 1041.8 989.3 C1044.4 985.8 1047.1 982.3 1049.8 978.8 C1052.4 975.2 1055.1 971.6 1057.7 968 C1060.4 964.3 1063.1 960.6 1065.7 956.9 C1068.4 953 1071.1 949.2 1073.7 945.3 C1076.4 941.2 1079.1 937.2 1081.7 933.1 C1084.4 928.7 1087 924.3 1089.6 919.8 C1092.4 915.2 1095 910.4 1097.6 905.7 C1100.3 900.7 1103 895.7 1105.6 890.7 C1108.3 885.5 1110.9 880.3 1113.5 875.1 C1116.2 869.8 1118.9 864.4 1121.5 859.1 C1124.2 853.6 1126.8 848.1 1129.5 842.6 L1129.5 727.6 1129.5 727.6 C1186.3 727 1243.2 726.4 1300 725.9 C1408.7 725 1517.3 724.8 1626 724.3" fill="none" stroke="#0000FF" stroke-width="6.2" />
<path d="M978.5 1201.5 L1129.4 1201.5 L1129.4 1021.7 1129.4 1021.7 C1132.1 1021 1134.7 1020.3 1137.4 1019.6 C1140.1 1018.9 1142.7 1018.2 1145.4 1017.5 C1148.1 1016.8 1150.8 1016.2 1153.4 1015.5 C1156.1 1014.9 1158.8 1014.2 1161.4 1013.6 C1164.1 1013 1166.8 1012.5 1169.4 1011.9 C1172.1 1011.3 1174.8 1010.8 1177.5 1010.3 C1180.1 1009.7 1182.8 1009.2 1185.5 1008.7 C1188.1 1008.1 1190.8 1007.6 1193.5 1007.1 C1196.1 1006.5 1198.8 1006 1201.5 1005.5 C1204.2 1005 1206.8 1004.5 1209.5 1004 C1212.2 1003.5 1214.8 1003 1217.5 1002.5 C1220.2 1002 1222.8 1001.5 1225.5 1001.1 C1228.2 1000.6 1230.9 1000.2 1233.5 999.7 C1236.2 999.3 1238.9 998.8 1241.5 998.4 C1244.2 998 1246.9 997.5 1249.5 997.1 C1252.2 996.7 1254.9 996.3 1257.6 995.9 C1260.2 995.5 1262.9 995.1 1265.6 994.7 C1268.2 994.3 1270.9 993.9 1273.6 993.5 C1276.2 993.1 1278.9 992.7 1281.6 992.3 C1284.3 991.9 1286.9 991.5 1289.6 991.2 C1292.3 990.8 1294.9 990.5 1297.6 990.1 C1300.3 989.8 1302.9 989.5 1305.6 989.1 C1308.3 988.8 1311 988.5 1313.6 988.1 C1316.3 987.8 1319 987.5 1321.6 987.2 C1324.3 986.8 1327 986.5 1329.6 986.2 C1332.3 985.9 1335 985.6 1337.7 985.3 C1340.3 985 1343 984.7 1345.7 984.4 C1348.3 984.1 1351 983.8 1353.7 983.5 C1356.3 983.2 1359 982.9 1361.7 982.7 C1364.3 982.4 1367 982.1 1369.7 981.8 C1372.4 981.6 1375 981.3 1377.7 981.1 C1380.4 980.9 1383 980.7 1385.7 980.5 C1388.4 980.2 1391 980 1393.7 979.8 C1396.4 979.6 1399.1 979.4 1401.7 979.2 C1404.4 979 1407.1 978.8 1409.7 978.6 C1412.4 978.4 1415.1 978.2 1417.7 978 C1420.4 977.8 1423.1 977.6 1425.8 977.4 C1428.4 977.2 1431.1 977 1433.8 976.8 C1436.4 976.6 1439.1 976.4 1441.8 976.2 C1444.4 976 1447.1 975.8 1449.8 975.6 C1452.5 975.4 1455.1 975.2 1457.8 975 C1460.5 974.7 1463.1 974.5 1465.8 974.3 C1468.5 974 1471.1 973.8 1473.8 973.5 C1476.5 973.3 1479.2 973 1481.8 972.8 C1484.5 972.5 1487.2 972.3 1489.8 972 C1492.5 971.8 1495.2 971.5 1497.8 971.3 C1500.5 971 1503.2 970.8 1505.9 970.6 C1508.5 970.3 1511.2 970.1 1513.9 969.9 C1516.5 969.7 1519.2 969.5 1521.9 969.2 C1524.5 969 1527.2 968.9 1529.9 968.7 C1532.6 968.5 1535.2 968.3 1537.9 968.1 C1540.6 967.9 1543.2 967.7 1545.9 967.5 C1548.6 967.3 1551.2 967.1 1553.9 966.9 C1556.6 966.7 1559.3 966.5 1561.9 966.3 C1564.6 966.1 1567.3 965.9 1569.9 965.7 C1572.6 965.6 1575.3 965.4 1577.9 965.2 C1580.6 965 1583.3 964.8 1586 964.7 C1588.6 964.5 1591.3 964.3 1594 964.1 C1596.6 964 1599.3 963.8 1602 963.6 C1604.6 963.4 1607.3 963.2 1610 963.1 C1612.7 962.9 1615.3 962.7 1618 962.5 C1620.7 962.4 1623.3 962.2 1626 962" fill="none" stroke="#0000FF" stroke-width="5.4" />
<path d="M1119 1021.9 H1130" fill="none" stroke="#0000FF" stroke-width="5.4" />
</g>
<text x="1236.4" y="803.6" text-anchor="start" fill="#9DC3E6"><tspan font-weight="bold" font-style="italic" font-size="40.4">Log Scale</tspan></text>
<text x="1392.8" y="951.3" text-anchor="start" fill="#9DC3E6"><tspan font-weight="bold" font-style="italic" font-size="40.4">Linear Scale</tspan></text>
<text x="1207.1" y="859.7" text-anchor="start" fill="#000"><tspan font-weight="bold" font-size="34.7">Solid: Forward sweep</tspan></text>
<text x="1207.1" y="901.2" text-anchor="start" fill="#000"><tspan font-weight="bold" font-size="34.7">Dashed: Reverse sweep</tspan></text>
<text x="1028.5" y="1161.5" text-anchor="start" fill="#000"><tspan font-weight="bold" font-size="55">(c)</tspan></text>
<line x1="1384.5" y1="1057.7" x2="1453.6" y2="1057.7" stroke="#000" stroke-width="5.4" stroke-linecap="round"/>
<text x="1465.5" y="1067.4" text-anchor="start" fill="#000"><tspan font-weight="bold" font-style="italic" font-size="31.8">T</tspan><tspan font-weight="normal" font-size="16.5" dx="-1">FE</tspan><tspan font-weight="bold" font-size="31.8" dx="1">= 6nm</tspan></text>
<line x1="1384.5" y1="1097.6" x2="1453.6" y2="1097.6" stroke="#FF0000" stroke-width="5.4" stroke-linecap="round"/>
<text x="1465.5" y="1107.7" text-anchor="start" fill="#000"><tspan font-weight="bold" font-style="italic" font-size="31.8">T</tspan><tspan font-weight="normal" font-size="16.5" dx="-1">FE</tspan><tspan font-weight="bold" font-size="31.8" dx="1">= 8nm</tspan></text>
<line x1="1384.5" y1="1137.5" x2="1453.6" y2="1137.5" stroke="#0B7D12" stroke-width="5.4" stroke-linecap="round"/>
<text x="1465.5" y="1148" text-anchor="start" fill="#000"><tspan font-weight="bold" font-style="italic" font-size="31.8">T</tspan><tspan font-weight="normal" font-size="16.5" dx="-1">FE</tspan><tspan font-weight="bold" font-size="31.8" dx="1">= 10nm</tspan></text>
<line x1="1384.5" y1="1177.4" x2="1453.6" y2="1177.4" stroke="#0000FF" stroke-width="5.4" stroke-linecap="round"/>
<text x="1465.5" y="1188.3" text-anchor="start" fill="#000"><tspan font-weight="bold" font-style="italic" font-size="31.8">T</tspan><tspan font-weight="normal" font-size="16.5" dx="-1">FE</tspan><tspan font-weight="bold" font-size="31.8" dx="1">= 12nm</tspan></text>
<text x="1239.5" y="1279.9" text-anchor="start" fill="#000"><tspan font-weight="bold" font-style="italic" font-size="54">V</tspan><tspan font-weight="bold" font-size="21" dx="-0.5">G</tspan><tspan font-weight="bold" font-size="54" dx="0.5"> (V)</tspan></text>
<text x="900.8" y="1081" text-anchor="start" fill="#000" transform="rotate(-90 900.8 1081)"><tspan font-weight="bold" font-style="italic" font-size="55">I</tspan><tspan font-weight="bold" font-size="22" dx="7">D</tspan><tspan font-weight="bold" font-size="55" dx="2"> (A/µm)</tspan></text>
</g>
<g id="panel-d">
<clipPath id="clipd"><rect x="176.8" y="1351.3" width="655.4" height="481.2"/></clipPath>
<rect x="179.8" y="1354.3" width="649.4" height="475.2" fill="none" stroke="#000" stroke-width="6" />
<text x="179.8" y="1863.3" text-anchor="middle" fill="#000"><tspan font-weight="bold" font-size="30.3">-1.5</tspan></text>
<line x1="233.9" y1="1829.5" x2="233.9" y2="1822" stroke="#000" stroke-width="5" />
<line x1="233.9" y1="1354.3" x2="233.9" y2="1361.8" stroke="#000" stroke-width="5" />
<line x1="288" y1="1829.5" x2="288" y2="1818.5" stroke="#000" stroke-width="5" />
<line x1="288" y1="1354.3" x2="288" y2="1365.3" stroke="#000" stroke-width="5" />
<text x="288" y="1863.3" text-anchor="middle" fill="#000"><tspan font-weight="bold" font-size="30.3">-1.0</tspan></text>
<line x1="342.2" y1="1829.5" x2="342.2" y2="1822" stroke="#000" stroke-width="5" />
<line x1="342.2" y1="1354.3" x2="342.2" y2="1361.8" stroke="#000" stroke-width="5" />
<line x1="396.3" y1="1829.5" x2="396.3" y2="1818.5" stroke="#000" stroke-width="5" />
<line x1="396.3" y1="1354.3" x2="396.3" y2="1365.3" stroke="#000" stroke-width="5" />
<text x="396.3" y="1863.3" text-anchor="middle" fill="#000"><tspan font-weight="bold" font-size="30.3">-0.5</tspan></text>
<line x1="450.4" y1="1829.5" x2="450.4" y2="1822" stroke="#000" stroke-width="5" />
<line x1="450.4" y1="1354.3" x2="450.4" y2="1361.8" stroke="#000" stroke-width="5" />
<line x1="504.5" y1="1829.5" x2="504.5" y2="1818.5" stroke="#000" stroke-width="5" />
<line x1="504.5" y1="1354.3" x2="504.5" y2="1365.3" stroke="#000" stroke-width="5" />
<text x="504.5" y="1863.3" text-anchor="middle" fill="#000"><tspan font-weight="bold" font-size="30.3">0.0</tspan></text>
<line x1="558.6" y1="1829.5" x2="558.6" y2="1822" stroke="#000" stroke-width="5" />
<line x1="558.6" y1="1354.3" x2="558.6" y2="1361.8" stroke="#000" stroke-width="5" />
<line x1="612.7" y1="1829.5" x2="612.7" y2="1818.5" stroke="#000" stroke-width="5" />
<line x1="612.7" y1="1354.3" x2="612.7" y2="1365.3" stroke="#000" stroke-width="5" />
<text x="612.7" y="1863.3" text-anchor="middle" fill="#000"><tspan font-weight="bold" font-size="30.3">0.5</tspan></text>
<line x1="666.9" y1="1829.5" x2="666.9" y2="1822" stroke="#000" stroke-width="5" />
<line x1="666.9" y1="1354.3" x2="666.9" y2="1361.8" stroke="#000" stroke-width="5" />
<line x1="721" y1="1829.5" x2="721" y2="1818.5" stroke="#000" stroke-width="5" />
<line x1="721" y1="1354.3" x2="721" y2="1365.3" stroke="#000" stroke-width="5" />
<text x="721" y="1863.3" text-anchor="middle" fill="#000"><tspan font-weight="bold" font-size="30.3">1.0</tspan></text>
<line x1="775.1" y1="1829.5" x2="775.1" y2="1822" stroke="#000" stroke-width="5" />
<line x1="775.1" y1="1354.3" x2="775.1" y2="1361.8" stroke="#000" stroke-width="5" />
<text x="829.2" y="1863.3" text-anchor="middle" fill="#000"><tspan font-weight="bold" font-size="30.3">1.5</tspan></text>
<text x="167.8" y="1365.6" text-anchor="end" fill="#000"><tspan font-weight="bold" font-size="29.8">1.0x10</tspan><tspan font-weight="bold" font-size="19" dy="-15.5">-14</tspan></text>
<line x1="179.8" y1="1413.7" x2="187.3" y2="1413.7" stroke="#000" stroke-width="5" />
<line x1="829.2" y1="1413.7" x2="821.7" y2="1413.7" stroke="#000" stroke-width="5" />
<line x1="179.8" y1="1473.1" x2="190.8" y2="1473.1" stroke="#000" stroke-width="5" />
<line x1="829.2" y1="1473.1" x2="818.2" y2="1473.1" stroke="#000" stroke-width="5" />
<text x="167.8" y="1484.4" text-anchor="end" fill="#000"><tspan font-weight="bold" font-size="29.8">5.0x10</tspan><tspan font-weight="bold" font-size="19" dy="-15.5">-15</tspan></text>
<line x1="179.8" y1="1532.5" x2="187.3" y2="1532.5" stroke="#000" stroke-width="5" />
<line x1="829.2" y1="1532.5" x2="821.7" y2="1532.5" stroke="#000" stroke-width="5" />
<line x1="179.8" y1="1591.9" x2="190.8" y2="1591.9" stroke="#000" stroke-width="5" />
<line x1="829.2" y1="1591.9" x2="818.2" y2="1591.9" stroke="#000" stroke-width="5" />
<text x="167.8" y="1603.2" text-anchor="end" fill="#000"><tspan font-weight="bold" font-size="29.8">0.0</tspan></text>
<line x1="179.8" y1="1651.3" x2="187.3" y2="1651.3" stroke="#000" stroke-width="5" />
<line x1="829.2" y1="1651.3" x2="821.7" y2="1651.3" stroke="#000" stroke-width="5" />
<line x1="179.8" y1="1710.7" x2="190.8" y2="1710.7" stroke="#000" stroke-width="5" />
<line x1="829.2" y1="1710.7" x2="818.2" y2="1710.7" stroke="#000" stroke-width="5" />
<text x="167.8" y="1722" text-anchor="end" fill="#000"><tspan font-weight="bold" font-size="29.8">-5.0x10</tspan><tspan font-weight="bold" font-size="19" dy="-15.5">-15</tspan></text>
<line x1="179.8" y1="1770.1" x2="187.3" y2="1770.1" stroke="#000" stroke-width="5" />
<line x1="829.2" y1="1770.1" x2="821.7" y2="1770.1" stroke="#000" stroke-width="5" />
<text x="167.8" y="1840.8" text-anchor="end" fill="#000"><tspan font-weight="bold" font-size="29.8">-1.0x10</tspan><tspan font-weight="bold" font-size="19" dy="-15.5">-14</tspan></text>
<g clip-path="url(#clipd)" stroke-linejoin="round">
<path d="M179.6 1817 C202.7 1813.3 225.8 1809.9 248.8 1805.8 C268.9 1802.2 288.9 1798.5 308.8 1794.2 C325.5 1790.5 342.2 1786.4 358.8 1782.2 C375.5 1778 392.1 1773.6 408.8 1769.2 C426.1 1764.6 443.6 1760.4 460.8 1755.3 C477.7 1750.3 494.7 1745.3 511.1 1739 C522.9 1734.4 534.8 1729.8 546 1723.9 C554 1719.7 562 1715.2 569.3 1709.9 C573.7 1706.7 578.3 1703.5 582.1 1699.5 C585.1 1696.3 588.3 1692.9 590.2 1689 C592.1 1685.1 593.5 1680.5 593.7 1676.2 C593.9 1671.2 592.3 1665.6 590.2 1661.1 C587.7 1655.8 582.8 1651.4 578.6 1647.1 C573 1641.4 566.3 1636.9 560 1632 C551 1625.1 541.4 1618.8 532.1 1612.2 C522.9 1605.6 513.6 1599 504.4 1592.4 C495.2 1585.8 485.9 1579.2 476.7 1572.6 C467.4 1566 457.8 1559.7 448.8 1552.8 C442.5 1547.9 435.8 1543.4 430.2 1537.7 C426 1533.4 421.1 1529 418.6 1523.7 C416.5 1519.2 414.9 1513.6 415.1 1508.6 C415.3 1504.3 416.7 1499.7 418.6 1495.8 C420.5 1491.9 423.7 1488.5 426.7 1485.3 C430.5 1481.3 435.1 1478.1 439.5 1474.9 C446.8 1469.6 454.8 1465.1 462.8 1460.9 C474 1455 485.9 1450.4 497.7 1445.8 C514.1 1439.5 531.1 1434.5 548 1429.5 C565.2 1424.4 582.7 1420.2 600 1415.6 C616.7 1411.2 633.3 1406.8 650 1402.6 C666.6 1398.4 683.3 1394.3 700 1390.6 C719.9 1386.3 739.9 1382.6 760 1379 C783 1374.9 806.1 1371.5 829.2 1367.8" fill="none" stroke="#000" stroke-width="5.6" />
<path d="M179.6 1805.6 C202.7 1802.2 225.8 1799.1 248.8 1795.3 C268.8 1792 288.8 1788.2 308.8 1784.5 C325.5 1781.4 342.2 1778.3 358.8 1775 C375.5 1771.7 392.2 1768.3 408.8 1764.6 C426.2 1760.8 443.5 1756.8 460.8 1752.5 C477.6 1748.3 494.6 1744.2 511.1 1739 C521.3 1735.8 531.4 1732.3 541.4 1728.5 C550.8 1724.9 560.2 1721.1 569.3 1716.9 C576.4 1713.6 583.6 1710.6 590.2 1706.4 C595.1 1703.3 599.9 1700 604.1 1696 C607.1 1693.2 610.3 1690.2 612.3 1686.7 C614.1 1683.5 615.5 1679.7 615.8 1676.2 C616.3 1671.2 614.4 1665.7 612.3 1661.1 C610 1655.9 605.7 1651.3 601.8 1647.1 C596.4 1641.3 589.7 1636.6 583.2 1632 C571.8 1624 558.5 1618.5 546 1612.2 C532.3 1605.3 518.3 1599 504.4 1592.4 C490.5 1585.8 476.5 1579.5 462.8 1572.6 C450.3 1566.3 437 1560.8 425.6 1552.8 C419.1 1548.2 412.4 1543.5 407 1537.7 C403.1 1533.5 398.8 1528.9 396.5 1523.7 C394.4 1519.1 392.5 1513.6 393 1508.6 C393.3 1505.1 394.7 1501.3 396.5 1498.1 C398.5 1494.6 401.7 1491.6 404.7 1488.8 C408.9 1484.8 413.7 1481.5 418.6 1478.4 C425.2 1474.2 432.4 1471.2 439.5 1467.9 C448.6 1463.7 458 1459.9 467.4 1456.3 C477.4 1452.5 487.5 1449 497.7 1445.8 C514.2 1440.6 531.2 1436.5 548 1432.3 C565.3 1428 582.6 1424 600 1420.2 C616.6 1416.5 633.3 1413.1 650 1409.8 C666.6 1406.5 683.3 1403.4 700 1400.3 C720 1396.6 740 1392.8 760 1389.5 C783 1385.7 806.1 1382.6 829.2 1379.2" fill="none" stroke="#1EEE1E" stroke-width="5.6" />
<path d="M179.6 1797 C202.7 1793.8 225.8 1790.8 248.8 1787.5 C268.8 1784.6 288.8 1781.6 308.8 1778.5 C325.5 1775.9 342.1 1773.1 358.8 1770.3 C375.5 1767.5 392.2 1764.6 408.8 1761.5 C426.2 1758.2 443.5 1754.8 460.8 1751.1 C477.6 1747.5 494.5 1743.8 511.1 1739.5 C522.8 1736.5 534.5 1733.4 546 1729.7 C557 1726.2 567.8 1722.3 578.6 1718.1 C587.2 1714.8 595.9 1711.7 604.1 1707.6 C609.7 1704.8 615.5 1702.1 620.4 1698.3 C624.7 1695 629.3 1691.3 632.1 1686.7 C634.3 1683.2 636.4 1679 636.7 1675 C637 1671.2 636 1666.8 634.4 1663.4 C632.2 1658.7 626.9 1655.5 622.8 1651.8 C617.7 1647.2 612.2 1642.9 606.5 1639 C595.1 1631.2 581.9 1626.3 569.3 1620.4 C559.2 1615.7 549 1611.4 538.8 1607 C527.4 1602.1 515.9 1597.3 504.4 1592.4 C492.9 1587.5 481.4 1582.7 470 1577.8 C459.8 1573.4 449.6 1569.1 439.5 1564.4 C426.9 1558.5 413.7 1553.6 402.3 1545.8 C396.6 1541.9 391.1 1537.6 386 1533 C381.9 1529.3 376.6 1526.1 374.4 1521.4 C372.8 1518 371.8 1513.6 372.1 1509.8 C372.4 1505.8 374.5 1501.6 376.7 1498.1 C379.5 1493.5 384.1 1489.8 388.4 1486.5 C393.3 1482.7 399.1 1480 404.7 1477.2 C412.9 1473.1 421.6 1470 430.2 1466.7 C441 1462.5 451.8 1458.6 462.8 1455.1 C474.3 1451.4 486 1448.3 497.7 1445.3 C514.3 1441 531.2 1437.3 548 1433.7 C565.3 1430 582.6 1426.6 600 1423.3 C616.6 1420.2 633.3 1417.3 650 1414.5 C666.7 1411.7 683.3 1408.9 700 1406.3 C720 1403.2 740 1400.2 760 1397.3 C783 1394 806.1 1391 829.2 1387.8" fill="none" stroke="#0000FF" stroke-width="5.6" />
<path d="M179.6 1790.4 C190 1789.1 238.4 1783.1 248.8 1781.8 C257.8 1780.6 299.8 1775.2 308.8 1773.9 C316.3 1772.9 351.3 1767.7 358.8 1766.6 C366.3 1765.5 401.3 1760 408.8 1758.8 C416.6 1757.5 453 1751.4 460.8 1750 C468.4 1748.6 503.6 1741.7 511.1 1740.1 C518.5 1738.5 552.7 1730.4 560 1728.5 C566.7 1726.7 597.7 1718.1 604.1 1715.7 C607.8 1714.3 625 1707.1 628.6 1705.3 C631.1 1704 642.7 1697.8 644.8 1696 C646.6 1694.5 654.2 1686.3 655.3 1684.3 C656.1 1682.9 658.8 1675.5 658.8 1673.9 C658.8 1673 658 1668.9 657.8 1668.1 C656.7 1664.1 642.3 1649.5 639 1647.1 C634.9 1644.1 611.3 1636.4 606.5 1634.3 C600.8 1631.9 575 1619.3 569.3 1616.9 C564.8 1615 543.4 1606.9 538.8 1605.2 C533.7 1603.3 509.6 1594.3 504.4 1592.4 C499.2 1590.5 475.1 1581.5 470 1579.6 C465.4 1577.9 444 1569.8 439.5 1567.9 C433.8 1565.5 408 1552.9 402.3 1550.5 C397.5 1548.4 373.9 1540.7 369.8 1537.7 C366.5 1535.3 352.1 1520.7 351 1516.7 C350.8 1515.9 350 1511.8 350 1510.9 C350 1509.3 352.7 1501.9 353.5 1500.5 C354.6 1498.5 362.2 1490.3 364 1488.8 C366.1 1487 377.7 1480.8 380.2 1479.5 C383.8 1477.7 401 1470.5 404.7 1469.1 C411.1 1466.7 442.1 1458.1 448.8 1456.3 C456.1 1454.4 490.3 1446.3 497.7 1444.7 C505.2 1443.1 540.4 1436.2 548 1434.8 C555.8 1433.4 592.2 1427.3 600 1426 C607.5 1424.8 642.5 1419.3 650 1418.2 C657.5 1417.1 692.5 1411.9 700 1410.9 C709 1409.6 751 1404.2 760 1403 C770.4 1401.7 818.8 1395.7 829.2 1394.4" fill="none" stroke="#FF0000" stroke-width="5.6" />
</g>
<rect x="330.9" y="1513.2" width="352" height="168.5" rx="14" ry="14" fill="none" stroke="#FFE08A" stroke-width="4.6" stroke-dasharray="17 7" opacity="0.95"/>
<text x="482.6" y="1555.1" text-anchor="start" fill="#FFC000"><tspan font-weight="bold" font-style="italic" font-size="39.5">NC Region</tspan></text>
<line x1="188.3" y1="1381.4" x2="226.3" y2="1381.4" stroke="#000" stroke-width="5.6" stroke-linecap="round"/>
<text x="236.3" y="1387.8" text-anchor="start" fill="#000"><tspan font-weight="bold" font-style="italic" font-size="26.4">T</tspan><tspan font-weight="normal" font-size="14.5" dx="-1">FE</tspan><tspan font-weight="bold" font-size="26.4" dx="1">= 4nm</tspan></text>
<line x1="188.3" y1="1414.2" x2="226.3" y2="1414.2" stroke="#1EEE1E" stroke-width="5.6" stroke-linecap="round"/>
<text x="236.3" y="1420.6" text-anchor="start" fill="#000"><tspan font-weight="bold" font-style="italic" font-size="26.4">T</tspan><tspan font-weight="normal" font-size="14.5" dx="-1">FE</tspan><tspan font-weight="bold" font-size="26.4" dx="1">= 5nm</tspan></text>
<line x1="188.3" y1="1447" x2="226.3" y2="1447" stroke="#0000FF" stroke-width="5.6" stroke-linecap="round"/>
<text x="236.3" y="1453.4" text-anchor="start" fill="#000"><tspan font-weight="bold" font-style="italic" font-size="26.4">T</tspan><tspan font-weight="normal" font-size="14.5" dx="-1">FE</tspan><tspan font-weight="bold" font-size="26.4" dx="1">= 6nm</tspan></text>
<line x1="188.3" y1="1479.8" x2="226.3" y2="1479.8" stroke="#FF0000" stroke-width="5.6" stroke-linecap="round"/>
<text x="236.3" y="1486.2" text-anchor="start" fill="#000"><tspan font-weight="bold" font-style="italic" font-size="26.4">T</tspan><tspan font-weight="normal" font-size="14.5" dx="-1">FE</tspan><tspan font-weight="bold" font-size="26.4" dx="1">= 7nm</tspan></text>
<text x="199.5" y="1754.8" text-anchor="start" fill="#000"><tspan font-weight="bold" font-size="56">(d)</tspan></text>
<text x="444.5" y="1913.4" text-anchor="start" fill="#000"><tspan font-weight="bold" font-style="italic" font-size="54">V</tspan><tspan font-weight="bold" font-size="18.5" dx="1.5">FE</tspan><tspan font-weight="bold" font-size="54" dx="2.5"> (V)</tspan></text>
<text x="44.5" y="1664" text-anchor="start" fill="#000" transform="rotate(-90 44.5 1664)"><tspan font-weight="bold" font-style="italic" font-size="55">Q</tspan><tspan font-weight="bold" font-size="19.5" dx="1">G</tspan><tspan font-weight="bold" font-size="55" dx="0"> (C)</tspan></text>
</g>
<g id="panel-e">
<clipPath id="clipe"><rect x="992.8" y="1350.5" width="636.2" height="481.8"/></clipPath>
<rect x="995.8" y="1353.5" width="630.2" height="475.8" fill="none" stroke="#000" stroke-width="6" />
<text x="995.8" y="1862.7" text-anchor="middle" fill="#000"><tspan font-weight="bold" font-size="28.5">0.0</tspan></text>
<line x1="1058.8" y1="1829.3" x2="1058.8" y2="1821.8" stroke="#000" stroke-width="5" />
<line x1="1058.8" y1="1353.5" x2="1058.8" y2="1361" stroke="#000" stroke-width="5" />
<line x1="1121.8" y1="1829.3" x2="1121.8" y2="1818.3" stroke="#000" stroke-width="5" />
<line x1="1121.8" y1="1353.5" x2="1121.8" y2="1364.5" stroke="#000" stroke-width="5" />
<text x="1121.8" y="1862.7" text-anchor="middle" fill="#000"><tspan font-weight="bold" font-size="28.5">0.2</tspan></text>
<line x1="1184.9" y1="1829.3" x2="1184.9" y2="1821.8" stroke="#000" stroke-width="5" />
<line x1="1184.9" y1="1353.5" x2="1184.9" y2="1361" stroke="#000" stroke-width="5" />
<line x1="1247.9" y1="1829.3" x2="1247.9" y2="1818.3" stroke="#000" stroke-width="5" />
<line x1="1247.9" y1="1353.5" x2="1247.9" y2="1364.5" stroke="#000" stroke-width="5" />
<text x="1247.9" y="1862.7" text-anchor="middle" fill="#000"><tspan font-weight="bold" font-size="28.5">0.4</tspan></text>
<line x1="1310.9" y1="1829.3" x2="1310.9" y2="1821.8" stroke="#000" stroke-width="5" />
<line x1="1310.9" y1="1353.5" x2="1310.9" y2="1361" stroke="#000" stroke-width="5" />
<line x1="1373.9" y1="1829.3" x2="1373.9" y2="1818.3" stroke="#000" stroke-width="5" />
<line x1="1373.9" y1="1353.5" x2="1373.9" y2="1364.5" stroke="#000" stroke-width="5" />
<text x="1373.9" y="1862.7" text-anchor="middle" fill="#000"><tspan font-weight="bold" font-size="28.5">0.6</tspan></text>
<line x1="1436.9" y1="1829.3" x2="1436.9" y2="1821.8" stroke="#000" stroke-width="5" />
<line x1="1436.9" y1="1353.5" x2="1436.9" y2="1361" stroke="#000" stroke-width="5" />
<line x1="1500" y1="1829.3" x2="1500" y2="1818.3" stroke="#000" stroke-width="5" />
<line x1="1500" y1="1353.5" x2="1500" y2="1364.5" stroke="#000" stroke-width="5" />
<text x="1500" y="1862.7" text-anchor="middle" fill="#000"><tspan font-weight="bold" font-size="28.5">0.8</tspan></text>
<line x1="1563" y1="1829.3" x2="1563" y2="1821.8" stroke="#000" stroke-width="5" />
<line x1="1563" y1="1353.5" x2="1563" y2="1361" stroke="#000" stroke-width="5" />
<text x="1626" y="1862.7" text-anchor="middle" fill="#000"><tspan font-weight="bold" font-size="28.5">1.0</tspan></text>
<text x="985.3" y="1361.5" text-anchor="end" fill="#000"><tspan font-weight="bold" font-size="28">6</tspan></text>
<line x1="995.8" y1="1448.7" x2="1003.3" y2="1448.7" stroke="#000" stroke-width="5" />
<line x1="1626" y1="1448.7" x2="1618.5" y2="1448.7" stroke="#000" stroke-width="5" />
<line x1="995.8" y1="1543.8" x2="1006.8" y2="1543.8" stroke="#000" stroke-width="5" />
<line x1="1626" y1="1543.8" x2="1615" y2="1543.8" stroke="#000" stroke-width="5" />
<text x="985.3" y="1551.8" text-anchor="end" fill="#000"><tspan font-weight="bold" font-size="28">4</tspan></text>
<line x1="995.8" y1="1639" x2="1003.3" y2="1639" stroke="#000" stroke-width="5" />
<line x1="1626" y1="1639" x2="1618.5" y2="1639" stroke="#000" stroke-width="5" />
<line x1="995.8" y1="1734.1" x2="1006.8" y2="1734.1" stroke="#000" stroke-width="5" />
<line x1="1626" y1="1734.1" x2="1615" y2="1734.1" stroke="#000" stroke-width="5" />
<text x="985.3" y="1742.1" text-anchor="end" fill="#000"><tspan font-weight="bold" font-size="28">2</tspan></text>
<g clip-path="url(#clipe)" stroke-linejoin="round">
<path d="M996 1822.7 C997.5 1822.7 999 1822.7 1000.5 1822.6 C1002 1822.6 1003.5 1822.6 1005 1822.6 C1006.5 1822.6 1008 1822.6 1009.5 1822.5 C1011 1822.5 1012.5 1822.5 1014 1822.5 C1015.5 1822.5 1017 1822.5 1018.5 1822.4 C1020 1822.4 1021.5 1822.4 1023 1822.4 C1024.5 1822.4 1026 1822.4 1027.5 1822.3 C1029 1822.3 1030.5 1822.3 1032 1822.3 C1033.5 1822.3 1035 1822.3 1036.5 1822.2 C1038 1822.2 1039.5 1822.2 1041 1822.2 C1042.5 1822.2 1044 1822.2 1045.5 1822.1 C1047 1822.1 1048.5 1822.1 1050 1822.1 C1051.5 1822.1 1053 1822.1 1054.5 1822 C1056 1822 1057.5 1822 1059 1822 C1060.5 1822 1062 1822 1063.5 1821.9 C1065 1821.9 1066.5 1821.9 1068 1821.9 C1069.5 1821.9 1071 1821.9 1072.5 1821.8 C1074 1821.8 1075.5 1821.8 1077 1821.8 C1078.5 1821.8 1080 1821.8 1081.5 1821.7 C1083 1821.7 1084.5 1821.7 1086 1821.7 C1087.5 1821.7 1089 1821.6 1090.5 1821.6 C1092 1821.6 1093.5 1821.6 1095 1821.6 C1096.5 1821.6 1098 1821.5 1099.5 1821.5 C1101 1821.5 1102.5 1821.5 1104 1821.5 C1105.5 1821.5 1107 1821.4 1108.5 1821.4 C1110 1821.4 1111.5 1821.4 1113 1821.4 C1114.5 1821.4 1116 1821.3 1117.5 1821.3 C1119 1821.3 1120.5 1821.3 1122 1821.3 C1123.5 1821.2 1125 1821.2 1126.5 1821.2 C1128 1821.2 1129.5 1821.2 1131 1821.1 C1132.5 1821.1 1134 1821.1 1135.5 1821.1 C1137 1821.1 1138.5 1821 1140 1821 C1141.5 1821 1143 1821 1144.5 1821 C1146 1820.9 1147.5 1820.9 1149 1820.9 C1150.5 1820.9 1152 1820.8 1153.5 1820.8 C1155 1820.8 1156.5 1820.8 1158 1820.8 C1159.5 1820.7 1161 1820.7 1162.5 1820.7 C1164 1820.7 1165.5 1820.7 1167 1820.6 C1168.5 1820.6 1170 1820.6 1171.5 1820.6 C1173 1820.5 1174.5 1820.5 1176 1820.5 C1177.5 1820.5 1179 1820.5 1180.5 1820.4 C1182 1820.4 1183.5 1820.4 1185 1820.4 C1186.5 1820.4 1188 1820.3 1189.5 1820.3 C1191 1820.3 1192.5 1820.3 1194 1820.3 C1195.5 1820.2 1197 1820.2 1198.5 1820.2 C1200 1820.2 1201.5 1820.1 1203 1820.1 C1204.5 1820.1 1206 1820.1 1207.5 1820.1 C1209 1820 1210.5 1820 1212 1820 C1213.5 1820 1215 1820 1216.5 1819.9 C1218 1819.9 1219.5 1819.9 1221 1819.9 C1222.5 1819.8 1224 1819.8 1225.5 1819.8 C1227 1819.8 1228.5 1819.8 1230 1819.7 C1231.5 1819.7 1233 1819.7 1234.5 1819.7 C1236 1819.7 1237.5 1819.6 1239 1819.6 C1240.5 1819.6 1242 1819.6 1243.5 1819.5 C1245 1819.5 1246.5 1819.4 1248 1819.4 C1249.5 1819.4 1251 1819.3 1252.5 1819.2 C1254 1819.2 1255.5 1819.1 1257 1819 C1258.5 1819 1260 1818.9 1261.5 1818.8 C1263 1818.7 1264.5 1818.7 1266 1818.6 C1267.5 1818.5 1269 1818.4 1270.5 1818.2 C1272 1818.1 1273.5 1818 1275 1817.9 C1276.5 1817.7 1278 1817.6 1279.5 1817.4 C1281 1817.3 1282.5 1817.2 1284 1817 C1285.5 1816.8 1287 1816.7 1288.5 1816.5 C1290 1816.4 1291.5 1816.2 1293 1816 C1294.5 1815.8 1296 1815.6 1297.5 1815.3 C1299 1815.1 1300.5 1814.8 1302 1814.5 C1303.5 1814.2 1305 1813.9 1306.5 1813.5 C1308 1813.1 1309.5 1812.6 1311 1812.2 C1312.5 1811.7 1314 1811.1 1315.5 1810.5 C1317 1809.9 1318.5 1809.3 1320 1808.6 C1321.5 1807.9 1323 1807.2 1324.5 1806.4 C1326 1805.5 1327.5 1804.7 1329 1803.7 C1330.5 1802.8 1332 1801.7 1333.5 1800.7 C1335 1799.6 1336.5 1798.4 1338 1797.2 C1339.5 1796 1341 1794.7 1342.5 1793.5 C1344 1792.2 1345.5 1790.9 1347 1789.5 C1348.5 1788.2 1350 1786.8 1351.5 1785.5 C1353 1784.1 1354.5 1782.8 1356 1781.5 C1357.5 1780.1 1359 1778.8 1360.5 1777.5 C1362 1776.2 1363.5 1774.9 1365 1773.6 C1366.5 1772.3 1368 1771.1 1369.5 1769.8 C1371 1768.6 1372.5 1767.4 1374 1766.3 C1375.5 1765.1 1377 1764 1378.5 1762.9 C1380 1761.9 1381.5 1760.9 1383 1759.9 C1384.5 1759 1386 1758.1 1387.5 1757.2 C1389 1756.3 1390.5 1755.5 1392 1754.7 C1393.5 1753.9 1395 1753.1 1396.5 1752.4 C1398 1751.7 1399.5 1751 1401 1750.3 C1402.5 1749.7 1404 1749.2 1405.5 1748.6 C1407 1748.1 1408.5 1747.7 1410 1747.3 C1411.5 1746.9 1413 1746.6 1414.5 1746.3 C1416 1746 1417.5 1745.7 1419 1745.5 C1420.5 1745.3 1422 1745.1 1423.5 1745 C1425 1744.8 1426.5 1744.7 1428 1744.6 C1429.5 1744.5 1431 1744.5 1432.5 1744.4 C1434 1744.4 1435.5 1744.5 1437 1744.5 C1438.5 1744.6 1440 1744.7 1441.5 1744.8 C1443 1744.9 1444.5 1745.1 1446 1745.2 C1447.5 1745.4 1449 1745.6 1450.5 1745.8 C1452 1746 1453.5 1746.2 1455 1746.5 C1456.5 1746.7 1458 1747 1459.5 1747.3 C1461 1747.6 1462.5 1748 1464 1748.3 C1465.5 1748.7 1467 1749.1 1468.5 1749.5 C1470 1749.8 1471.5 1750.3 1473 1750.7 C1474.5 1751.1 1476 1751.5 1477.5 1751.9 C1479 1752.3 1480.5 1752.8 1482 1753.2 C1483.5 1753.6 1485 1754.1 1486.5 1754.5 C1488 1755 1489.5 1755.5 1491 1755.9 C1492.5 1756.4 1494 1756.9 1495.5 1757.5 C1497 1758 1498.5 1758.5 1500 1759 C1501.5 1759.5 1503 1760.1 1504.5 1760.6 C1506 1761.1 1507.5 1761.7 1509 1762.2 C1510.5 1762.7 1512 1763.2 1513.5 1763.8 C1515 1764.3 1516.5 1764.8 1518 1765.3 C1519.5 1765.9 1521 1766.4 1522.5 1766.9 C1524 1767.4 1525.5 1767.9 1527 1768.5 C1528.5 1769 1530 1769.5 1531.5 1770 C1533 1770.5 1534.5 1771 1536 1771.5 C1537.5 1772 1539 1772.5 1540.5 1772.9 C1542 1773.4 1543.5 1773.9 1545 1774.3 C1546.5 1774.8 1548 1775.2 1549.5 1775.7 C1551 1776.1 1552.5 1776.6 1554 1777 C1555.5 1777.5 1557 1777.9 1558.5 1778.4 C1560 1778.8 1561.5 1779.3 1563 1779.7 C1564.5 1780.2 1566 1780.6 1567.5 1781.1 C1569 1781.6 1570.5 1782 1572 1782.5 C1573.5 1782.9 1575 1783.4 1576.5 1783.8 C1578 1784.3 1579.5 1784.7 1581 1785.2 C1582.5 1785.6 1584 1786.1 1585.5 1786.5 C1587 1786.9 1588.5 1787.4 1590 1787.8 C1591.5 1788.2 1593 1788.7 1594.5 1789.1 C1596 1789.5 1597.5 1789.9 1599 1790.3 C1600.5 1790.8 1602 1791.2 1603.5 1791.6 C1605 1792 1606.5 1792.4 1608 1792.8 C1609.5 1793.2 1611 1793.6 1612.5 1794 C1614 1794.4 1615.5 1794.8 1617 1795.2 C1618.5 1795.6 1620 1796 1621.5 1796.4 C1623 1796.7 1624.5 1797.1 1626 1797.5" fill="none" stroke="#000" stroke-width="5.6" />
<path d="M996 1819.5 C997.5 1819.5 999 1819.5 1000.5 1819.4 C1002 1819.4 1003.5 1819.4 1005 1819.4 C1006.5 1819.3 1008 1819.3 1009.5 1819.3 C1011 1819.3 1012.5 1819.2 1014 1819.2 C1015.5 1819.2 1017 1819.2 1018.5 1819.2 C1020 1819.1 1021.5 1819.1 1023 1819.1 C1024.5 1819.1 1026 1819 1027.5 1819 C1029 1819 1030.5 1819 1032 1818.9 C1033.5 1818.9 1035 1818.9 1036.5 1818.9 C1038 1818.9 1039.5 1818.8 1041 1818.8 C1042.5 1818.8 1044 1818.8 1045.5 1818.7 C1047 1818.7 1048.5 1818.7 1050 1818.7 C1051.5 1818.6 1053 1818.6 1054.5 1818.6 C1056 1818.6 1057.5 1818.6 1059 1818.5 C1060.5 1818.5 1062 1818.5 1063.5 1818.5 C1065 1818.4 1066.5 1818.4 1068 1818.4 C1069.5 1818.4 1071 1818.4 1072.5 1818.3 C1074 1818.3 1075.5 1818.3 1077 1818.3 C1078.5 1818.2 1080 1818.2 1081.5 1818.2 C1083 1818.2 1084.5 1818.1 1086 1818.1 C1087.5 1818.1 1089 1818.1 1090.5 1818.1 C1092 1818 1093.5 1818 1095 1818 C1096.5 1818 1098 1817.9 1099.5 1817.9 C1101 1817.9 1102.5 1817.9 1104 1817.8 C1105.5 1817.8 1107 1817.8 1108.5 1817.8 C1110 1817.8 1111.5 1817.7 1113 1817.7 C1114.5 1817.7 1116 1817.7 1117.5 1817.6 C1119 1817.6 1120.5 1817.6 1122 1817.6 C1123.5 1817.5 1125 1817.5 1126.5 1817.5 C1128 1817.5 1129.5 1817.4 1131 1817.4 C1132.5 1817.4 1134 1817.3 1135.5 1817.3 C1137 1817.3 1138.5 1817.3 1140 1817.2 C1141.5 1817.2 1143 1817.2 1144.5 1817.2 C1146 1817.1 1147.5 1817.1 1149 1817.1 C1150.5 1817 1152 1817 1153.5 1817 C1155 1817 1156.5 1816.9 1158 1816.9 C1159.5 1816.9 1161 1816.9 1162.5 1816.8 C1164 1816.8 1165.5 1816.8 1167 1816.8 C1168.5 1816.7 1170 1816.7 1171.5 1816.7 C1173 1816.6 1174.5 1816.6 1176 1816.6 C1177.5 1816.6 1179 1816.5 1180.5 1816.5 C1182 1816.5 1183.5 1816.5 1185 1816.4 C1186.5 1816.4 1188 1816.4 1189.5 1816.3 C1191 1816.3 1192.5 1816.3 1194 1816.3 C1195.5 1816.2 1197 1816.2 1198.5 1816.2 C1200 1816.2 1201.5 1816.1 1203 1816.1 C1204.5 1816.1 1206 1816 1207.5 1816 C1209 1816 1210.5 1816 1212 1815.9 C1213.5 1815.9 1215 1815.9 1216.5 1815.9 C1218 1815.8 1219.5 1815.8 1221 1815.8 C1222.5 1815.7 1224 1815.7 1225.5 1815.7 C1227 1815.7 1228.5 1815.6 1230 1815.6 C1231.5 1815.6 1233 1815.6 1234.5 1815.5 C1236 1815.5 1237.5 1815.5 1239 1815.4 C1240.5 1815.4 1242 1815.4 1243.5 1815.3 C1245 1815.2 1246.5 1815.2 1248 1815 C1249.5 1814.9 1251 1814.8 1252.5 1814.7 C1254 1814.5 1255.5 1814.3 1257 1814.2 C1258.5 1814 1260 1813.8 1261.5 1813.6 C1263 1813.5 1264.5 1813.3 1266 1813.1 C1267.5 1812.9 1269 1812.7 1270.5 1812.5 C1272 1812.3 1273.5 1812.1 1275 1811.9 C1276.5 1811.6 1278 1811.4 1279.5 1811.2 C1281 1811 1282.5 1810.7 1284 1810.5 C1285.5 1810.3 1287 1810 1288.5 1809.8 C1290 1809.5 1291.5 1809.2 1293 1808.9 C1294.5 1808.6 1296 1808.2 1297.5 1807.8 C1299 1807.4 1300.5 1807 1302 1806.5 C1303.5 1806 1305 1805.5 1306.5 1804.8 C1308 1804.2 1309.5 1803.5 1311 1802.7 C1312.6 1801.8 1314.1 1800.9 1315.5 1799.8 C1317.1 1798.7 1318.6 1797.5 1320 1796.3 C1321.6 1794.9 1323 1793.5 1324.5 1792 C1326.1 1790.4 1327.6 1788.7 1329 1787.1 C1330.6 1785.2 1332 1783.4 1333.5 1781.4 C1335.1 1779.4 1336.5 1777.3 1338 1775.2 C1339.6 1772.9 1341 1770.6 1342.5 1768.3 C1344 1765.8 1345.5 1763.2 1347 1760.7 C1348.5 1758.1 1350 1755.5 1351.5 1752.9 C1353 1750.3 1354.5 1747.8 1356 1745.2 C1357.5 1742.8 1359 1740.4 1360.5 1737.9 C1362 1735.7 1363.4 1733.4 1365 1731.1 C1366.5 1729 1367.9 1727 1369.5 1724.9 C1370.9 1723.1 1372.4 1721.2 1374 1719.5 C1375.4 1717.8 1376.9 1716.2 1378.5 1714.7 C1379.9 1713.3 1381.4 1712 1383 1710.8 C1384.4 1709.7 1385.9 1708.7 1387.5 1707.8 C1388.9 1706.9 1390.5 1706.1 1392 1705.5 C1393.5 1704.9 1395 1704.4 1396.5 1704 C1398 1703.5 1399.5 1703.2 1401 1702.9 C1402.5 1702.6 1404 1702.4 1405.5 1702.2 C1407 1702.1 1408.5 1702.1 1410 1702.1 C1411.5 1702.2 1413 1702.4 1414.5 1702.6 C1416 1702.8 1417.5 1703.1 1419 1703.4 C1420.5 1703.7 1422 1704 1423.5 1704.3 C1425 1704.7 1426.5 1705.1 1428 1705.5 C1429.5 1706 1431 1706.5 1432.5 1707 C1434 1707.6 1435.5 1708.2 1437 1708.9 C1438.5 1709.5 1440 1710.2 1441.5 1710.9 C1443 1711.7 1444.5 1712.5 1446 1713.3 C1447.5 1714.1 1449 1714.9 1450.5 1715.7 C1452 1716.5 1453.5 1717.4 1455 1718.2 C1456.5 1719 1458 1719.9 1459.5 1720.7 C1461 1721.6 1462.5 1722.4 1464 1723.3 C1465.5 1724.1 1467 1725 1468.5 1725.9 C1470 1726.8 1471.5 1727.7 1473 1728.6 C1474.5 1729.5 1476 1730.4 1477.5 1731.3 C1479 1732.2 1480.5 1733.1 1482 1734 C1483.5 1734.9 1485 1735.8 1486.5 1736.8 C1488 1737.7 1489.5 1738.7 1491 1739.7 C1492.5 1740.7 1494 1741.7 1495.5 1742.8 C1497 1743.8 1498.5 1744.8 1500 1745.9 C1501.5 1746.9 1503 1748 1504.5 1749 C1506 1750.1 1507.5 1751.1 1509 1752.1 C1510.5 1753.1 1512 1754.1 1513.5 1755.1 C1515 1756.1 1516.5 1757 1518 1758 C1519.5 1758.9 1521 1759.8 1522.5 1760.7 C1524 1761.6 1525.5 1762.5 1527 1763.4 C1528.5 1764.3 1530 1765.2 1531.5 1766.1 C1533 1766.9 1534.5 1767.8 1536 1768.6 C1537.5 1769.4 1539 1770.2 1540.5 1770.9 C1542 1771.7 1543.5 1772.4 1545 1773.1 C1546.5 1773.8 1548 1774.4 1549.5 1775.1 C1551 1775.8 1552.5 1776.5 1554 1777.1 C1555.5 1777.8 1557 1778.5 1558.5 1779.2 C1560 1779.8 1561.5 1780.5 1563 1781.2 C1564.5 1781.9 1566 1782.5 1567.5 1783.2 C1569 1783.9 1570.5 1784.5 1572 1785.2 C1573.5 1785.9 1575 1786.6 1576.5 1787.2 C1578 1787.9 1579.5 1788.5 1581 1789.2 C1582.5 1789.8 1584 1790.5 1585.5 1791.1 C1587 1791.7 1588.5 1792.3 1590 1792.8 C1591.5 1793.4 1593 1793.9 1594.5 1794.5 C1596 1795 1597.5 1795.5 1599 1796.1 C1600.5 1796.6 1602 1797.1 1603.5 1797.7 C1605 1798.2 1606.5 1798.7 1608 1799.3 C1609.5 1799.8 1611 1800.4 1612.5 1800.9 C1614 1801.5 1615.5 1802 1617 1802.6 C1618.5 1803.2 1620 1803.7 1621.5 1804.3 C1623 1804.9 1624.5 1805.4 1626 1806" fill="none" stroke="#1EEE1E" stroke-width="5.6" />
<path d="M996 1815.3 C997 1815.3 998 1815.3 999 1815.3 C1000 1815.2 1001 1815.2 1002 1815.2 C1003 1815.2 1004 1815.2 1005 1815.2 C1006 1815.2 1007 1815.1 1008 1815.1 C1009 1815.1 1010 1815.1 1011 1815.1 C1012 1815.1 1013 1815.1 1014 1815 C1015 1815 1016 1815 1017 1815 C1018 1815 1019 1815 1020 1815 C1021 1814.9 1022 1814.9 1023 1814.9 C1024 1814.9 1025 1814.9 1026 1814.9 C1027 1814.8 1028 1814.8 1029 1814.8 C1030 1814.8 1031 1814.8 1032 1814.8 C1033 1814.8 1034 1814.7 1035 1814.7 C1036 1814.7 1037 1814.7 1038 1814.7 C1039 1814.7 1040 1814.7 1041 1814.6 C1042 1814.6 1043 1814.6 1044 1814.6 C1045 1814.6 1046 1814.6 1047 1814.6 C1048 1814.5 1049 1814.5 1050 1814.5 C1051 1814.5 1052 1814.5 1053 1814.5 C1054 1814.5 1055 1814.4 1056 1814.4 C1057 1814.4 1058 1814.4 1059 1814.4 C1060 1814.4 1061 1814.4 1062 1814.3 C1063 1814.3 1064 1814.3 1065 1814.3 C1066 1814.3 1067 1814.3 1068 1814.3 C1069 1814.2 1070 1814.2 1071 1814.2 C1072 1814.2 1073 1814.2 1074 1814.2 C1075 1814.2 1076 1814.1 1077 1814.1 C1078 1814.1 1079 1814.1 1080 1814.1 C1081 1814.1 1082 1814.1 1083 1814 C1084 1814 1085 1814 1086 1814 C1087 1814 1088 1814 1089 1813.9 C1090 1813.9 1091 1813.9 1092 1813.9 C1093 1813.9 1094 1813.9 1095 1813.9 C1096 1813.8 1097 1813.8 1098 1813.8 C1099 1813.8 1100 1813.8 1101 1813.8 C1102 1813.8 1103 1813.7 1104 1813.7 C1105 1813.7 1106 1813.7 1107 1813.7 C1108 1813.7 1109 1813.7 1110 1813.6 C1111 1813.6 1112 1813.6 1113 1813.6 C1114 1813.6 1115 1813.6 1116 1813.6 C1117 1813.5 1118 1813.5 1119 1813.5 C1120 1813.5 1121 1813.5 1122 1813.5 C1123 1813.5 1124 1813.4 1125 1813.4 C1126 1813.4 1127 1813.4 1128 1813.4 C1129 1813.4 1130 1813.3 1131 1813.3 C1132 1813.3 1133 1813.3 1134 1813.3 C1135 1813.3 1136 1813.3 1137 1813.2 C1138 1813.2 1139 1813.2 1140 1813.2 C1141 1813.2 1142 1813.2 1143 1813.2 C1144 1813.1 1145 1813.1 1146 1813.1 C1147 1813.1 1148 1813.1 1149 1813.1 C1150 1813 1151 1813 1152 1813 C1153 1813 1154 1813 1155 1813 C1156 1813 1157 1812.9 1158 1812.9 C1159 1812.9 1160 1812.9 1161 1812.9 C1162 1812.9 1163 1812.9 1164 1812.8 C1165 1812.8 1166 1812.8 1167 1812.8 C1168 1812.8 1169 1812.8 1170 1812.7 C1171 1812.7 1172 1812.7 1173 1812.7 C1174 1812.7 1175 1812.7 1176 1812.7 C1177 1812.6 1178 1812.6 1179 1812.6 C1180 1812.6 1181 1812.6 1182 1812.6 C1183 1812.6 1184 1812.5 1185 1812.5 C1186 1812.5 1187 1812.5 1188 1812.5 C1189 1812.5 1190 1812.5 1191 1812.4 C1192 1812.4 1193 1812.4 1194 1812.4 C1195 1812.4 1196 1812.4 1197 1812.3 C1198 1812.3 1199 1812.3 1200 1812.3 C1201 1812.3 1202 1812.3 1203 1812.3 C1204 1812.2 1205 1812.2 1206 1812.2 C1207 1812.2 1208 1812.2 1209 1812.2 C1210 1812.1 1211 1812.1 1212 1812.1 C1213 1812.1 1214 1812.1 1215 1812.1 C1216 1812 1217 1812 1218 1812 C1219 1812 1220 1812 1221 1811.9 C1222 1811.9 1223 1811.9 1224 1811.8 C1225 1811.8 1226 1811.8 1227 1811.7 C1228 1811.7 1229 1811.7 1230 1811.6 C1231 1811.6 1232 1811.6 1233 1811.5 C1234 1811.5 1235 1811.4 1236 1811.4 C1237 1811.4 1238 1811.3 1239 1811.3 C1240 1811.2 1241 1811.2 1242 1811.2 C1243 1811.1 1244 1811 1245 1811 C1246 1810.9 1247 1810.8 1248 1810.7 C1249 1810.6 1250 1810.5 1251 1810.4 C1252 1810.3 1253 1810.2 1254 1810 C1255 1809.9 1256 1809.8 1257 1809.6 C1258 1809.5 1259 1809.4 1260 1809.2 C1261 1809.1 1262 1808.9 1263 1808.8 C1264 1808.6 1265 1808.5 1266 1808.3 C1267 1808.1 1268 1807.9 1269 1807.7 C1270 1807.6 1271 1807.3 1272 1807.1 C1273 1806.9 1274 1806.7 1275 1806.4 C1276 1806.2 1277 1805.9 1278 1805.6 C1279 1805.3 1280 1805 1281 1804.7 C1282 1804.3 1283 1803.9 1284 1803.5 C1285 1803.1 1286 1802.6 1287 1802.1 C1288 1801.6 1289 1801.1 1290 1800.5 C1291 1800 1292 1799.4 1293 1798.7 C1294 1798.1 1295 1797.4 1296 1796.7 C1297 1795.9 1298 1795.1 1299 1794.3 C1300 1793.5 1301.1 1792.8 1302 1792 C1303.1 1791.1 1304.1 1790 1305 1788.9 C1306.1 1787.7 1307 1786.3 1308 1785 C1309.1 1783.5 1310 1781.9 1311 1780.4 C1312 1778.8 1313 1777.1 1314 1775.5 C1315 1773.7 1316.1 1771.9 1317 1770 C1318.1 1767.8 1319 1765.6 1320 1763.4 C1321.1 1760.9 1322 1758.4 1323 1755.8 C1324 1753.2 1325 1750.6 1326 1748 C1327 1745.2 1328 1742.4 1329 1739.7 C1330 1736.6 1331 1733.5 1332 1730.5 C1333 1727.2 1334 1723.8 1335 1720.5 C1336 1717.1 1337 1713.7 1338 1710.3 C1339 1706.9 1340 1703.5 1341 1700.1 C1342 1696.7 1343 1693.3 1344 1689.9 C1345 1686.5 1346 1683.1 1347 1679.7 C1348 1676.4 1349 1673 1350 1669.6 C1351 1666.3 1352 1663 1353 1659.8 C1354 1656.8 1355 1653.8 1356 1650.8 C1357 1648.1 1358 1645.4 1359 1642.7 C1360 1640.1 1361 1637.5 1362 1634.9 C1363 1632.5 1363.9 1630 1365 1627.6 C1365.9 1625.4 1366.9 1623.2 1368 1621.1 C1368.9 1619.4 1369.9 1617.6 1371 1615.9 C1371.9 1614.4 1372.9 1613 1374 1611.7 C1374.9 1610.6 1375.8 1609.5 1377 1608.8 C1377.9 1608.2 1379 1607.6 1380 1607.5 C1381 1607.4 1382.1 1607.7 1383 1608 C1384.1 1608.4 1385.1 1609.1 1386 1609.7 C1387.1 1610.5 1388.1 1611.5 1389 1612.5 C1390.1 1613.6 1391 1615 1392 1616.3 C1393.1 1617.7 1394 1619.2 1395 1620.7 C1396 1622.3 1397 1623.9 1398 1625.5 C1399 1627.2 1400 1628.9 1401 1630.7 C1402 1632.5 1403 1634.3 1404 1636.2 C1405 1638 1406 1639.9 1407 1641.7 C1408 1643.6 1409 1645.4 1410 1647.3 C1411 1649.1 1412 1651 1413 1652.8 C1414 1654.7 1415 1656.5 1416 1658.3 C1417 1660.2 1418 1662 1419 1663.8 C1420 1665.6 1421 1667.4 1422 1669.2 C1423 1671 1424 1672.8 1425 1674.5 C1426 1676.3 1427 1678 1428 1679.7 C1429 1681.4 1430 1683 1431 1684.7 C1432 1686.3 1433 1687.9 1434 1689.5 C1435 1691.1 1436 1692.7 1437 1694.2 C1438 1695.8 1439 1697.3 1440 1698.8 C1441 1700.3 1442 1701.7 1443 1703.2 C1444 1704.6 1445 1706 1446 1707.5 C1447 1708.8 1448 1710.2 1449 1711.6 C1450 1712.9 1451 1714.2 1452 1715.5 C1453 1716.8 1454 1718 1455 1719.3 C1456 1720.5 1457 1721.7 1458 1722.9 C1459 1724.1 1460 1725.3 1461 1726.4 C1462 1727.6 1463 1728.7 1464 1729.8 C1465 1730.9 1466 1732 1467 1733.1 C1468 1734.1 1469 1735.2 1470 1736.2 C1471 1737.3 1472 1738.3 1473 1739.3 C1474 1740.3 1475 1741.4 1476 1742.4 C1477 1743.4 1478 1744.3 1479 1745.3 C1480 1746.3 1481 1747.3 1482 1748.3 C1483 1749.2 1484 1750.2 1485 1751.1 C1486 1752.1 1487 1753 1488 1753.9 C1489 1754.8 1490 1755.7 1491 1756.6 C1492 1757.5 1493 1758.3 1494 1759.2 C1495 1760 1496 1760.8 1497 1761.7 C1498 1762.5 1499 1763.3 1500 1764.1 C1501 1764.9 1502 1765.7 1503 1766.5 C1504 1767.3 1505 1768.1 1506 1768.9 C1507 1769.6 1508 1770.4 1509 1771.1 C1510 1771.9 1511 1772.6 1512 1773.3 C1513 1774 1514 1774.7 1515 1775.4 C1516 1776.1 1517 1776.7 1518 1777.4 C1519 1778 1520 1778.7 1521 1779.3 C1522 1779.9 1523 1780.5 1524 1781.1 C1525 1781.7 1526 1782.3 1527 1782.9 C1528 1783.5 1529 1784.1 1530 1784.7 C1531 1785.3 1532 1785.8 1533 1786.4 C1534 1787 1535 1787.5 1536 1788.1 C1537 1788.7 1538 1789.2 1539 1789.7 C1540 1790.3 1541 1790.8 1542 1791.3 C1543 1791.9 1544 1792.4 1545 1792.9 C1546 1793.4 1547 1793.9 1548 1794.4 C1549 1794.9 1550 1795.4 1551 1795.9 C1552 1796.4 1553 1796.9 1554 1797.4 C1555 1797.9 1556 1798.4 1557 1798.9 C1558 1799.4 1559 1799.9 1560 1800.4 C1561 1800.8 1562 1801.3 1563 1801.8 C1564 1802.3 1565 1802.7 1566 1803.2 C1567 1803.7 1568 1804.1 1569 1804.6 C1570 1805 1571 1805.5 1572 1805.9 C1573 1806.4 1574 1806.8 1575 1807.3 C1576 1807.7 1577 1808.2 1578 1808.6 C1579 1809.1 1580 1809.5 1581 1809.9 C1582 1810.3 1583 1810.8 1584 1811.2 C1585 1811.6 1586 1812 1587 1812.4 C1588 1812.8 1589 1813.2 1590 1813.6 C1591 1814 1592 1814.3 1593 1814.7 C1594 1815.1 1595 1815.4 1596 1815.8 C1597 1816.2 1598 1816.5 1599 1816.9 C1600 1817.2 1601 1817.6 1602 1817.9 C1603 1818.3 1604 1818.6 1605 1818.9 C1606 1819.3 1607 1819.6 1608 1820 C1609 1820.3 1610 1820.6 1611 1820.9 C1612 1821.3 1613 1821.6 1614 1821.9 C1615 1822.2 1616 1822.5 1617 1822.8 C1618 1823.1 1619 1823.4 1620 1823.7 C1621 1824 1622 1824.3 1623 1824.6 C1624 1824.9 1625 1825.2 1626 1825.5" fill="none" stroke="#0000FF" stroke-width="5.6" />
<path d="M996 1812.2 C997 1812.2 998 1812.2 999 1812.1 C1000 1812.1 1001 1812.1 1002 1812.1 C1003 1812.1 1004 1812.1 1005 1812 C1006 1812 1007 1812 1008 1812 C1009 1812 1010 1812 1011 1811.9 C1012 1811.9 1013 1811.9 1014 1811.9 C1015 1811.9 1016 1811.8 1017 1811.8 C1018 1811.8 1019 1811.8 1020 1811.8 C1021 1811.8 1022 1811.7 1023 1811.7 C1024 1811.7 1025 1811.7 1026 1811.7 C1027 1811.7 1028 1811.6 1029 1811.6 C1030 1811.6 1031 1811.6 1032 1811.6 C1033 1811.5 1034 1811.5 1035 1811.5 C1036 1811.5 1037 1811.5 1038 1811.5 C1039 1811.4 1040 1811.4 1041 1811.4 C1042 1811.4 1043 1811.4 1044 1811.3 C1045 1811.3 1046 1811.3 1047 1811.3 C1048 1811.3 1049 1811.3 1050 1811.2 C1051 1811.2 1052 1811.2 1053 1811.2 C1054 1811.2 1055 1811.2 1056 1811.1 C1057 1811.1 1058 1811.1 1059 1811.1 C1060 1811.1 1061 1811 1062 1811 C1063 1811 1064 1811 1065 1811 C1066 1811 1067 1810.9 1068 1810.9 C1069 1810.9 1070 1810.9 1071 1810.9 C1072 1810.9 1073 1810.8 1074 1810.8 C1075 1810.8 1076 1810.8 1077 1810.8 C1078 1810.7 1079 1810.7 1080 1810.7 C1081 1810.7 1082 1810.7 1083 1810.7 C1084 1810.6 1085 1810.6 1086 1810.6 C1087 1810.6 1088 1810.6 1089 1810.6 C1090 1810.5 1091 1810.5 1092 1810.5 C1093 1810.5 1094 1810.5 1095 1810.4 C1096 1810.4 1097 1810.4 1098 1810.4 C1099 1810.4 1100 1810.4 1101 1810.3 C1102 1810.3 1103 1810.3 1104 1810.3 C1105 1810.3 1106 1810.2 1107 1810.2 C1108 1810.2 1109 1810.2 1110 1810.2 C1111 1810.2 1112 1810.1 1113 1810.1 C1114 1810.1 1115 1810.1 1116 1810.1 C1117 1810.1 1118 1810 1119 1810 C1120 1810 1121 1810 1122 1810 C1123 1809.9 1124 1809.9 1125 1809.9 C1126 1809.9 1127 1809.9 1128 1809.8 C1129 1809.8 1130 1809.8 1131 1809.8 C1132 1809.8 1133 1809.7 1134 1809.7 C1135 1809.7 1136 1809.7 1137 1809.7 C1138 1809.6 1139 1809.6 1140 1809.6 C1141 1809.6 1142 1809.6 1143 1809.5 C1144 1809.5 1145 1809.5 1146 1809.5 C1147 1809.5 1148 1809.4 1149 1809.4 C1150 1809.4 1151 1809.4 1152 1809.4 C1153 1809.3 1154 1809.3 1155 1809.3 C1156 1809.3 1157 1809.3 1158 1809.2 C1159 1809.2 1160 1809.2 1161 1809.2 C1162 1809.2 1163 1809.1 1164 1809.1 C1165 1809.1 1166 1809.1 1167 1809.1 C1168 1809 1169 1809 1170 1809 C1171 1809 1172 1809 1173 1808.9 C1174 1808.9 1175 1808.9 1176 1808.9 C1177 1808.9 1178 1808.8 1179 1808.8 C1180 1808.8 1181 1808.8 1182 1808.8 C1183 1808.7 1184 1808.7 1185 1808.7 C1186 1808.7 1187 1808.7 1188 1808.6 C1189 1808.6 1190 1808.6 1191 1808.6 C1192 1808.6 1193 1808.5 1194 1808.5 C1195 1808.5 1196 1808.5 1197 1808.5 C1198 1808.4 1199 1808.4 1200 1808.4 C1201 1808.4 1202 1808.4 1203 1808.3 C1204 1808.3 1205 1808.3 1206 1808.3 C1207 1808.3 1208 1808.2 1209 1808.2 C1210 1808.2 1211 1808.2 1212 1808.2 C1213 1808.1 1214 1808.1 1215 1808.1 C1216 1808.1 1217 1808 1218 1808 C1219 1808 1220 1807.9 1221 1807.9 C1222 1807.8 1223 1807.8 1224 1807.7 C1225 1807.6 1226 1807.6 1227 1807.5 C1228 1807.4 1229 1807.3 1230 1807.3 C1231 1807.2 1232 1807.1 1233 1807 C1234 1807 1235 1806.9 1236 1806.8 C1237 1806.7 1238 1806.7 1239 1806.6 C1240 1806.5 1241 1806.4 1242 1806.4 C1243 1806.3 1244 1806.2 1245 1806.1 C1246 1806 1247 1805.9 1248 1805.7 C1249 1805.6 1250 1805.5 1251 1805.3 C1252 1805.2 1253 1805 1254 1804.8 C1255 1804.7 1256 1804.5 1257 1804.3 C1258 1804.1 1259 1803.9 1260 1803.7 C1261 1803.5 1262 1803.2 1263 1802.9 C1264 1802.7 1265 1802.3 1266 1802 C1267 1801.6 1268 1801.3 1269 1800.8 C1270 1800.4 1271 1799.9 1272 1799.3 C1273 1798.7 1274 1798.1 1275 1797.4 C1276 1796.7 1277.1 1795.9 1278 1795 C1279.1 1794 1280.1 1793 1281 1791.9 C1282.1 1790.6 1283.1 1789.2 1284 1787.8 C1285.1 1786.2 1286 1784.4 1287 1782.8 C1288 1781.1 1289.1 1779.5 1290 1777.8 C1291.2 1775.5 1292.1 1773.1 1293 1770.7 C1294.1 1767.8 1295 1764.9 1296 1762 C1297 1759 1298 1756 1299 1753 C1300.1 1749.7 1301.1 1746.3 1302 1742.9 C1303.1 1738.8 1304 1734.7 1305 1730.6 C1306 1726.3 1307 1722 1308 1717.7 C1309 1713.3 1310.1 1708.8 1311 1704.4 C1312.1 1699.3 1313 1694.2 1314 1689.2 C1315 1683.9 1316 1678.6 1317 1673.3 C1318 1668 1319 1662.7 1320 1657.4 C1321 1651.8 1322 1646.1 1323 1640.5 C1324 1634.7 1325 1628.9 1326 1623.1 C1327 1617.3 1328 1611.5 1329 1605.7 C1330 1599.8 1331 1594 1332 1588.2 C1333 1582.2 1334 1576.3 1335 1570.4 C1336 1564.4 1337 1558.4 1338 1552.4 C1339 1546.5 1339.9 1540.6 1341 1534.7 C1342 1529.5 1342.9 1524.2 1344 1519 C1345 1514.2 1345.9 1509.5 1347 1504.7 C1348 1500.5 1348.8 1496.1 1350 1491.9 C1350.9 1488.8 1351.5 1485.4 1353 1482.6 C1353.8 1480.9 1354.5 1478.1 1356 1478 C1356.8 1477.9 1358.2 1478.5 1359 1479.1 C1360.8 1480.3 1361.1 1483.1 1362 1485.2 C1363.3 1488.4 1364.1 1491.9 1365 1495.2 C1366.1 1499.4 1367 1503.7 1368 1508 C1369 1512.5 1370 1516.9 1371 1521.4 C1372 1526 1373 1530.7 1374 1535.3 C1375 1540 1376 1544.8 1377 1549.5 C1378 1554.2 1379 1558.9 1380 1563.6 C1381 1568.1 1382 1572.6 1383 1577.1 C1384 1581.4 1385 1585.6 1386 1589.9 C1387 1594.2 1387.9 1598.5 1389 1602.7 C1390 1606.5 1390.9 1610.4 1392 1614.2 C1392.9 1617.4 1394 1620.7 1395 1623.9 C1396 1627.1 1397 1630.3 1398 1633.5 C1399 1636.6 1400 1639.8 1401 1643 C1402 1645.9 1403 1648.9 1404 1651.8 C1405 1654.5 1406 1657.2 1407 1659.9 C1408 1662.5 1409 1665.1 1410 1667.7 C1411 1670.2 1412 1672.8 1413 1675.3 C1414 1677.7 1415 1680 1416 1682.3 C1417 1684.5 1418 1686.6 1419 1688.8 C1420 1690.8 1421 1692.9 1422 1694.9 C1423 1696.9 1424 1698.9 1425 1700.8 C1426 1702.8 1427 1704.7 1428 1706.6 C1429 1708.4 1430 1710.3 1431 1712.1 C1432 1714 1433 1715.8 1434 1717.6 C1435 1719.3 1436 1721 1437 1722.8 C1438 1724.5 1439 1726.1 1440 1727.8 C1441 1729.4 1442 1731 1443 1732.6 C1444 1734.1 1445 1735.7 1446 1737.2 C1447 1738.7 1448 1740.2 1449 1741.7 C1450 1743.1 1451 1744.6 1452 1746 C1453 1747.3 1454 1748.7 1455 1750.1 C1456 1751.4 1457 1752.6 1458 1753.9 C1459 1755.2 1460 1756.4 1461 1757.6 C1462 1758.7 1463 1759.9 1464 1761 C1465 1762.1 1466 1763.2 1467 1764.2 C1468 1765.2 1469 1766.2 1470 1767.2 C1471 1768.2 1472 1769.2 1473 1770.1 C1474 1771 1475 1771.9 1476 1772.9 C1477 1773.8 1478 1774.7 1479 1775.5 C1480 1776.4 1481 1777.3 1482 1778.2 C1483 1779 1484 1779.8 1485 1780.6 C1486 1781.5 1487 1782.2 1488 1783 C1489 1783.8 1490 1784.5 1491 1785.2 C1492 1785.9 1493 1786.6 1494 1787.3 C1495 1788 1496 1788.6 1497 1789.2 C1498 1789.9 1499 1790.5 1500 1791.1 C1501 1791.7 1502 1792.3 1503 1792.9 C1504 1793.5 1505 1794.1 1506 1794.7 C1507 1795.3 1508 1795.9 1509 1796.5 C1510 1797 1511 1797.6 1512 1798.2 C1513 1798.7 1514 1799.3 1515 1799.8 C1516 1800.3 1517 1800.9 1518 1801.4 C1519 1801.9 1520 1802.4 1521 1802.9 C1522 1803.4 1523 1803.9 1524 1804.5 C1525 1804.9 1526 1805.4 1527 1805.9 C1528 1806.4 1529 1806.9 1530 1807.4 C1531 1807.9 1532 1808.3 1533 1808.8 C1534 1809.3 1535 1809.7 1536 1810.1 C1537 1810.6 1538 1811 1539 1811.4 C1540 1811.8 1541 1812.2 1542 1812.6 C1543 1813 1544 1813.4 1545 1813.7 C1546 1814.1 1547 1814.5 1548 1814.8 C1549 1815.2 1550 1815.5 1551 1815.9 C1552 1816.2 1553 1816.6 1554 1816.9 C1555 1817.2 1556 1817.6 1557 1817.9 C1558 1818.2 1559 1818.5 1560 1818.8 C1561 1819.2 1562 1819.5 1563 1819.8 C1564 1820 1565 1820.3 1566 1820.6 C1567 1820.9 1568 1821.2 1569 1821.4 C1570 1821.7 1571 1821.9 1572 1822.2 C1573 1822.5 1574 1822.7 1575 1823 C1576 1823.2 1577 1823.5 1578 1823.7 C1579 1823.9 1580 1824.2 1581 1824.4 C1582 1824.7 1583 1824.9 1584 1825.1 C1585 1825.4 1586 1825.6 1587 1825.8 C1588 1826 1589 1826.3 1590 1826.5 C1591 1826.7 1592 1826.9 1593 1827.1 C1594 1827.3 1595 1827.5 1596 1827.7 C1597 1827.9 1598 1828.1 1599 1828.3 C1600 1828.5 1601 1828.7 1602 1828.9 C1603 1829.1 1604 1829.3 1605 1829.5 C1606 1829.7 1607 1829.9 1608 1830.1 C1609 1830.3 1610 1830.4 1611 1830.6 C1612 1830.8 1613 1831 1614 1831.1 C1615 1831.3 1616 1831.5 1617 1831.6 C1618 1831.8 1619 1831.9 1620 1832.1 C1621 1832.2 1622 1832.4 1623 1832.5 C1624 1832.7 1625 1832.8 1626 1833" fill="none" stroke="#FF0000" stroke-width="5.6" />
</g>
<line x1="1023" y1="1438.4" x2="1061.8" y2="1438.4" stroke="#000" stroke-width="5.2" stroke-linecap="round"/>
<text x="1071.5" y="1444.5" text-anchor="start" fill="#000"><tspan font-weight="bold" font-style="italic" font-size="25.5">T</tspan><tspan font-weight="normal" font-size="14.5" dx="-1">FE</tspan><tspan font-weight="bold" font-size="25.5" dx="1">= 4nm</tspan></text>
<line x1="1023" y1="1471.4" x2="1061.8" y2="1471.4" stroke="#1EEE1E" stroke-width="5.2" stroke-linecap="round"/>
<text x="1071.5" y="1477.5" text-anchor="start" fill="#000"><tspan font-weight="bold" font-style="italic" font-size="25.5">T</tspan><tspan font-weight="normal" font-size="14.5" dx="-1">FE</tspan><tspan font-weight="bold" font-size="25.5" dx="1">= 5nm</tspan></text>
<line x1="1023" y1="1504.4" x2="1061.8" y2="1504.4" stroke="#0000FF" stroke-width="5.2" stroke-linecap="round"/>
<text x="1071.5" y="1510.5" text-anchor="start" fill="#000"><tspan font-weight="bold" font-style="italic" font-size="25.5">T</tspan><tspan font-weight="normal" font-size="14.5" dx="-1">FE</tspan><tspan font-weight="bold" font-size="25.5" dx="1">= 6nm</tspan></text>
<line x1="1023" y1="1537.4" x2="1061.8" y2="1537.4" stroke="#FF0000" stroke-width="5.2" stroke-linecap="round"/>
<text x="1071.5" y="1543.5" text-anchor="start" fill="#000"><tspan font-weight="bold" font-style="italic" font-size="25.5">T</tspan><tspan font-weight="normal" font-size="14.5" dx="-1">FE</tspan><tspan font-weight="bold" font-size="25.5" dx="1">= 7nm</tspan></text>
<text x="1007.5" y="1401.8" text-anchor="start" fill="#000"><tspan font-weight="normal" font-style="italic" font-size="37">V</tspan><tspan font-weight="bold" font-size="15.5" dx="-1.5">DS</tspan><tspan font-weight="bold" font-size="37.6" dx="2.5"> = 0.05V</tspan></text>
<text x="1022.5" y="1753.6" text-anchor="start" fill="#000"><tspan font-weight="bold" font-size="56.5">(e)</tspan></text>
<text x="1242.5" y="1917.2" text-anchor="start" fill="#000"><tspan font-weight="bold" font-style="italic" font-size="54">V</tspan><tspan font-weight="bold" font-size="21" dx="-2">G</tspan><tspan font-weight="bold" font-size="54" dx="2"> (V)</tspan></text>
<g transform="translate(946 1742) rotate(-90)">
<text x="-1" y="0" text-anchor="start" fill="#000"><tspan font-weight="bold" font-style="italic" font-size="56">A</tspan></text>
<text x="37.4" y="0" text-anchor="start" fill="#000"><tspan font-weight="bold" font-size="56">v</tspan></text>
<text x="78" y="0" text-anchor="start" fill="#000"><tspan font-weight="bold" font-size="56">(</tspan></text>
<text x="97" y="0" text-anchor="start" fill="#000" stroke="#000" stroke-width="1.7"><tspan font-weight="bold" font-style="italic" font-size="56">∂</tspan></text>
<text x="126.3" y="0" text-anchor="start" fill="#000"><tspan font-weight="bold" font-style="italic" font-size="56">V</tspan></text>
<text x="160.7" y="0" text-anchor="start" fill="#000"><tspan font-weight="normal" font-size="22.5">MOS</tspan></text>
<text x="209.8" y="0" text-anchor="start" fill="#000"><tspan font-weight="bold" font-size="56">/</tspan></text>
<text x="226" y="0" text-anchor="start" fill="#000" stroke="#000" stroke-width="1.7"><tspan font-weight="bold" font-style="italic" font-size="56">∂</tspan></text>
<text x="256" y="0" text-anchor="start" fill="#000"><tspan font-weight="bold" font-style="italic" font-size="56">V</tspan></text>
<text x="290" y="0" text-anchor="start" fill="#000"><tspan font-weight="bold" font-size="21">G</tspan></text>
<text x="305.2" y="0" text-anchor="start" fill="#000"><tspan font-weight="bold" font-size="56">)</tspan></text>
</g>
<text x="1240.8" y="1426.7" text-anchor="start" fill="#3c3c3c"><tspan font-weight="normal" font-style="italic" font-size="34">A</tspan><tspan font-weight="normal" font-style="italic" font-size="20" dy="7.5" dx="-1">V</tspan></text>
<text x="1283" y="1428" text-anchor="start" fill="#3c3c3c"><tspan font-weight="normal" font-size="34">=</tspan></text>
<line x1="1312.3" y1="1418.2" x2="1399.5" y2="1418.2" stroke="#3c3c3c" stroke-width="1.5" />
<text x="1313.5" y="1404" text-anchor="start" fill="#3c3c3c"><tspan font-weight="normal" font-style="italic" font-size="34">∂</tspan><tspan font-weight="normal" font-style="italic" font-size="34" dx="1">V</tspan><tspan font-weight="normal" font-style="italic" font-size="20" dy="8.8" dx="-2">MOS</tspan></text>
<text x="1322" y="1453.6" text-anchor="start" fill="#3c3c3c"><tspan font-weight="normal" font-style="italic" font-size="34">∂</tspan><tspan font-weight="normal" font-style="italic" font-size="34" dx="1">V</tspan><tspan font-weight="normal" font-style="italic" font-size="20" dy="8.6" dx="-2">GS</tspan></text>
<text x="1407.5" y="1428" text-anchor="start" fill="#3c3c3c"><tspan font-weight="normal" font-size="34">=</tspan></text>
<line x1="1434.9" y1="1417.8" x2="1601" y2="1417.8" stroke="#3c3c3c" stroke-width="1.5" />
<line x1="1488.6" y1="1371.7" x2="1488.6" y2="1413.3" stroke="#3c3c3c" stroke-width="1.5" />
<line x1="1546.7" y1="1371.7" x2="1546.7" y2="1413.3" stroke="#3c3c3c" stroke-width="1.5" />
<text x="1492.5" y="1401" text-anchor="start" fill="#3c3c3c"><tspan font-weight="normal" font-style="italic" font-size="34">C</tspan><tspan font-weight="normal" font-style="italic" font-size="20" dy="9.3" dx="0">FE</tspan></text>
<line x1="1439" y1="1424.2" x2="1439" y2="1465.8" stroke="#3c3c3c" stroke-width="1.5" />
<line x1="1497.2" y1="1424.2" x2="1497.2" y2="1465.8" stroke="#3c3c3c" stroke-width="1.5" />
<text x="1442.5" y="1453.6" text-anchor="start" fill="#3c3c3c"><tspan font-weight="normal" font-style="italic" font-size="34">C</tspan><tspan font-weight="normal" font-style="italic" font-size="20" dy="9.2" dx="0">FE</tspan></text>
<text x="1504.5" y="1455" text-anchor="start" fill="#3c3c3c"><tspan font-weight="normal" font-size="34">−</tspan></text>
<text x="1529.2" y="1453.6" text-anchor="start" fill="#3c3c3c"><tspan font-weight="normal" font-style="italic" font-size="34">C</tspan><tspan font-weight="normal" font-style="italic" font-size="20" dy="8.6" dx="0">MOS</tspan></text>
</g>
</svg>
</body></html>
